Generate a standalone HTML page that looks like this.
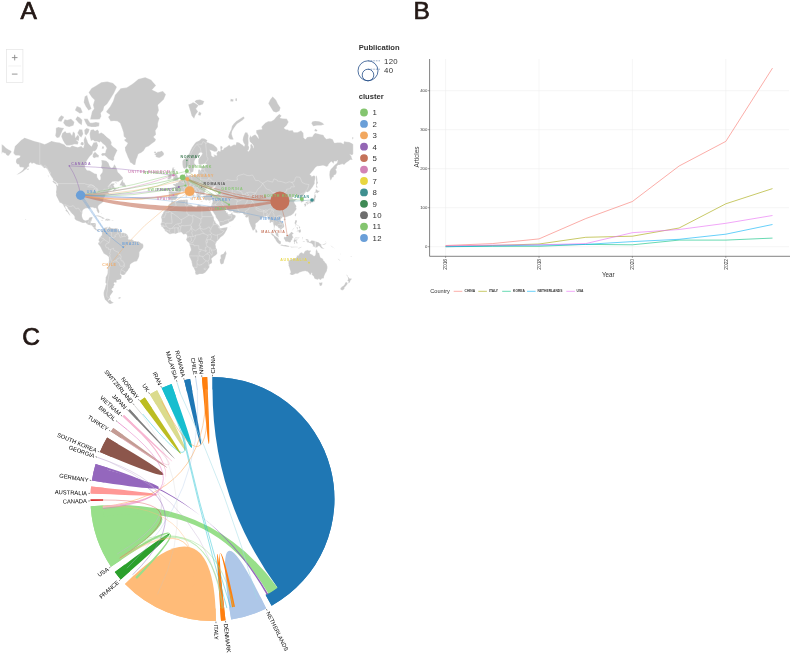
<!DOCTYPE html><html><head><meta charset="utf-8"><title>Figure</title><style>html,body{margin:0;padding:0;background:#fff}body{width:790px;height:654px;overflow:hidden}svg{display:block}text{font-family:"Liberation Sans",Arial,sans-serif}</style></head><body>
<svg width="790" height="654" viewBox="0 0 790 654">
<rect width="790" height="654" fill="#fff"/>
<g id="map">
<path fill="#c9c9c9" stroke="#fff" stroke-opacity="0.55" stroke-width="0.5" stroke-linejoin="round" d="M13.4 152.9L14.9 146.2L18.3 142.9L21.2 140.1L24.6 137.7L29.0 139.2L33.9 140.9L39.8 142.4L44.7 144.3L47.6 142.9L51.5 140.9L55.4 142.1L59.3 142.6L64.2 144.6L66.1 146.4L70.1 147.2L72.0 145.6L74.9 146.4L77.9 147.2L81.3 145.9L83.2 148.0L84.2 144.8L83.7 140.1L85.2 135.8L87.1 140.1L88.1 142.9L89.6 144.8L91.5 146.4L93.5 142.6L96.9 142.1L98.1 145.4L96.9 149.0L95.0 151.2L93.0 151.2L92.5 153.9L90.1 156.1L88.6 158.1L86.7 160.9L85.2 163.9L85.0 167.2L86.9 170.2L89.6 170.5L92.5 172.3L94.5 173.5L97.0 173.9L97.2 177.3L98.4 178.9L99.1 180.1L100.3 179.7L100.5 177.7L100.0 175.2L102.3 172.3L102.6 169.6L101.0 167.4L101.8 163.9L101.3 160.0L103.7 160.3L106.2 160.7L108.6 162.9L109.6 165.9L111.1 168.0L113.0 167.2L114.3 164.3L116.0 166.8L117.1 169.6L117.9 172.3L119.9 174.0L121.3 175.7L122.8 177.3L123.0 178.9L121.8 179.7L119.9 180.8L118.4 181.7L115.0 181.6L112.3 181.7L110.6 183.6L109.1 185.5L107.9 186.8L109.6 185.2L111.6 183.6L114.0 183.3L114.7 184.0L113.5 185.3L114.2 186.5L114.5 187.6L116.4 188.2L117.9 188.3L118.7 186.8L118.9 187.9L117.4 189.0L115.5 189.8L113.5 191.2L112.8 190.4L114.2 188.9L112.5 189.1L111.8 189.7L110.1 190.7L108.8 191.3L108.3 192.7L109.1 193.3L108.9 193.9L107.7 194.1L106.2 194.5L105.2 195.1L105.0 196.6L104.0 197.7L103.5 199.3L103.3 199.8L103.6 201.5L102.5 202.5L101.3 203.4L100.1 204.2L98.6 205.5L98.0 207.0L98.4 208.7L98.9 209.9L99.4 211.6L99.1 213.1L98.4 213.2L97.6 212.3L96.7 210.5L96.6 209.0L95.6 207.9L94.2 208.2L93.0 207.4L91.5 207.5L90.1 207.6L90.3 208.9L89.1 208.8L87.6 208.3L85.9 208.2L84.7 208.8L83.2 209.8L82.5 210.9L82.5 212.4L82.0 214.4L82.0 216.3L82.5 217.8L83.3 219.4L84.2 220.0L85.4 220.5L87.1 220.1L88.3 219.8L89.0 218.2L89.4 217.6L91.0 217.1L92.5 217.1L92.6 218.1L91.9 219.2L91.7 220.4L91.2 221.1L91.0 222.5L90.7 222.9L92.0 222.9L93.5 222.9L95.0 223.0L96.2 223.8L95.9 225.3L95.8 226.5L95.6 227.8L96.2 228.8L97.1 229.6L98.2 230.0L99.5 229.3L100.5 229.3L101.5 230.0L102.0 230.3L102.5 230.8L103.1 229.6L103.7 228.3L104.4 227.7L105.7 227.5L106.9 226.9L107.8 226.4L107.5 227.6L107.3 228.8L107.7 229.5L108.1 228.8L107.9 227.9L108.9 227.3L109.1 226.6L110.1 227.3L110.8 228.0L112.5 228.2L114.0 228.6L115.0 228.2L116.4 228.1L117.1 228.8L117.9 229.3L118.2 230.3L119.4 230.8L120.3 231.7L121.5 232.7L123.3 232.8L124.7 232.9L125.9 233.5L127.0 234.2L127.7 235.2L128.2 236.6L128.6 237.6L128.2 238.6L128.6 239.4L130.1 239.3L130.4 240.1L131.6 239.3L133.0 240.1L134.0 241.1L135.5 240.9L136.9 241.4L138.4 241.3L139.9 242.2L141.1 243.2L142.3 243.6L143.0 244.0L143.4 245.6L143.3 247.2L142.3 248.7L141.1 249.9L140.1 251.2L139.4 252.2L139.4 253.9L139.2 256.2L138.6 258.0L137.6 259.8L137.2 260.9L136.0 261.6L134.3 261.8L133.0 262.5L131.8 263.2L130.6 264.1L130.0 265.5L129.9 267.4L128.8 268.8L127.9 270.5L126.7 271.8L125.7 273.4L124.9 274.4L123.8 275.0L122.3 274.9L121.0 274.4L120.4 273.8L120.4 274.7L121.6 275.7L121.7 276.8L121.2 278.8L119.9 279.6L117.9 280.0L116.6 280.0L116.7 281.9L116.0 282.7L114.0 282.6L113.9 283.9L115.0 284.4L114.5 285.1L113.7 285.9L113.7 287.6L112.5 288.2L111.6 289.3L112.0 290.3L113.2 291.2L112.5 292.5L111.4 294.1L110.3 295.5L109.9 296.7L110.7 298.7L109.6 298.6L108.6 299.4L108.3 300.8L109.8 299.4L110.8 299.7L110.8 300.7L111.8 301.5L113.0 302.3L113.8 302.8L112.5 303.3L110.6 303.9L109.1 303.7L107.7 302.3L106.2 300.8L104.9 299.5L104.2 297.5L103.7 295.1L103.6 292.9L104.0 290.7L104.7 289.3L105.2 287.2L105.7 285.2L106.4 283.9L105.3 282.6L105.5 280.6L105.7 278.8L105.6 277.5L106.4 276.1L107.2 274.5L107.6 272.8L107.7 270.5L107.8 268.8L108.1 266.5L108.5 264.4L108.7 262.2L109.0 260.1L108.8 258.0L108.7 256.9L107.8 256.2L106.7 255.2L105.2 254.4L103.7 253.4L103.0 252.2L102.1 250.6L101.3 248.9L100.5 247.2L99.6 245.7L98.6 244.8L98.2 244.0L98.1 243.0L99.0 242.0L99.4 241.0L98.5 240.7L98.7 239.6L99.3 238.6L99.4 237.8L100.4 237.2L100.7 236.2L101.7 235.5L102.0 234.2L101.9 232.9L101.6 231.7L101.1 231.2L100.9 230.4L100.2 229.8L99.5 230.1L99.0 230.6L99.4 231.3L98.6 231.6L97.7 231.1L96.6 230.6L95.8 230.2L94.8 229.2L93.8 228.8L93.7 227.8L92.8 226.7L92.0 225.9L91.6 225.5L90.3 225.3L89.1 225.0L88.1 224.7L87.2 224.2L86.2 223.3L85.4 222.6L84.2 223.0L82.7 222.9L81.3 222.5L79.8 221.8L78.4 221.2L76.4 220.4L75.1 219.5L74.4 218.3L74.6 217.2L74.2 215.9L73.4 215.1L72.2 213.8L71.0 212.7L70.4 211.7L69.6 210.8L68.6 209.7L67.6 208.4L67.1 207.0L66.1 206.2L65.4 205.8L65.5 207.6L66.5 209.0L67.3 210.3L68.3 211.7L69.1 213.1L69.6 214.2L70.5 215.3L69.9 215.5L68.6 214.1L67.8 212.8L67.3 212.0L66.1 211.2L65.4 210.3L66.0 209.5L65.0 208.2L64.2 207.0L63.4 205.6L62.9 204.4L61.9 203.4L60.8 202.9L59.7 202.7L59.0 201.2L58.3 199.9L57.8 198.8L57.2 197.8L56.6 196.6L56.1 195.4L56.2 193.3L55.9 192.0L56.3 190.0L56.4 187.6L56.2 186.0L55.7 184.6L57.2 184.7L57.8 185.9L57.8 184.3L57.5 183.4L56.4 182.4L54.9 181.3L53.2 180.5L52.7 178.5L51.5 176.9L50.3 174.9L49.5 173.2L48.6 171.4L47.1 169.1L45.6 167.8L44.2 168.2L42.7 166.8L41.0 165.3L38.8 164.9L36.4 164.5L34.4 163.3L32.9 162.9L32.0 164.3L31.0 162.5L29.5 163.3L29.0 164.9L29.5 166.3L27.6 167.2L26.6 169.1L24.8 170.0L23.2 171.4L20.9 173.0L18.8 174.0L16.5 174.9L18.8 173.0L20.7 171.8L22.7 170.0L23.9 167.8L22.2 167.2L20.3 167.2L19.3 166.3L19.1 164.5L17.3 164.3L15.9 162.3L16.1 159.8L17.3 158.3L19.3 157.7L20.3 155.9L18.8 155.5L16.8 155.5L15.1 155.2L13.4 152.9ZM57.0 184.4L55.4 184.0L53.6 182.7L52.2 181.0L53.5 180.8L55.1 181.7L56.4 183.1ZM48.6 177.3L49.3 178.6L48.3 176.5L47.6 175.4L48.8 175.7ZM26.6 169.8L28.6 170.0L28.8 168.3L27.6 168.7ZM106.2 111.6L110.1 106.6L113.0 101.2L115.0 95.1L120.8 88.3L126.7 87.6L132.6 83.8L138.4 79.0L145.2 77.2L151.1 79.8L156.0 85.4L152.1 89.8L157.9 92.5L162.8 91.1L165.9 94.5L163.8 99.4L160.9 102.3L157.9 105.0L158.9 110.2L157.0 114.9L159.4 118.4L157.9 123.2L157.9 127.0L155.5 130.6L156.0 134.5L153.5 137.1L156.0 139.5L155.0 141.5L152.1 143.5L148.7 146.2L145.7 147.5L143.8 150.7L141.3 152.7L138.4 154.1L137.4 157.0L136.2 159.8L135.7 162.9L135.2 164.9L133.7 165.1L132.1 163.5L130.1 162.5L129.1 159.8L127.7 157.0L126.7 154.3L125.2 150.7L124.9 147.5L126.7 145.1L127.7 142.9L125.7 141.8L124.0 140.1L126.2 138.6L123.8 136.4L123.3 132.3L121.8 127.7L120.1 123.2L117.4 121.3L114.0 120.9L110.6 121.3L108.1 117.1L110.1 114.9L106.7 112.6ZM117.4 150.3L115.5 154.3L114.0 157.7L114.3 159.4L112.5 161.1L111.1 160.3L108.6 159.2L106.7 157.2L104.7 155.5L102.3 155.9L101.1 154.5L102.3 153.1L105.2 153.1L105.7 150.7L106.7 148.2L105.2 145.6L102.8 143.7L100.8 141.5L99.4 142.4L97.4 141.5L94.7 141.5L93.0 140.1L91.0 140.9L90.1 138.0L89.6 133.9L90.6 129.9L93.5 129.2L95.0 130.9L97.4 129.5L98.9 131.2L98.9 133.6L101.3 132.6L103.7 133.9L106.2 136.4L108.1 138.0L110.1 139.5L111.6 142.4L111.3 144.8L113.5 147.0L115.5 148.2L116.9 149.8ZM62.7 140.1L64.7 143.5L66.6 145.4L69.1 145.4L72.0 145.1L74.4 144.3L77.9 144.6L78.4 142.1L76.4 140.1L78.8 140.9L79.3 137.1L77.9 134.5L75.4 137.7L74.9 132.9L73.0 131.6L72.0 135.5L70.1 132.6L66.6 132.9L65.2 130.9L62.2 133.2L61.3 136.4ZM55.2 135.5L56.9 138.0L59.3 137.4L60.8 134.5L62.7 130.2L64.2 128.1L61.3 127.7L58.3 127.0L55.9 128.1L55.9 132.3ZM90.1 119.6L93.5 119.6L97.4 119.6L99.8 119.2L101.3 116.2L100.8 113.0L103.3 110.2L104.2 106.6L107.2 104.0L110.1 99.4L114.0 93.2L116.9 86.9L113.0 83.1L107.2 81.5L101.3 82.3L95.4 86.1L91.5 88.3L88.6 92.5L91.5 97.0L94.5 100.0L93.0 105.0L94.0 108.7L92.0 111.6L91.0 115.8ZM83.7 102.3L85.7 106.6L88.6 110.6L91.5 108.7L89.1 102.3L87.1 95.1L84.7 96.4ZM83.7 118.8L85.7 123.2L87.6 126.3L91.5 127.0L95.4 127.0L99.1 126.3L99.4 122.8L95.9 122.1L92.5 122.8L90.1 122.8L87.6 118.8ZM84.2 129.9L84.7 133.9L86.2 135.5L88.6 132.6L89.6 129.2L86.7 128.1ZM77.4 132.9L79.3 136.1L81.3 137.4L83.2 133.9L82.3 129.5L79.3 129.2ZM63.2 122.8L65.7 125.9L69.1 127.0L73.5 125.5L74.4 122.1L71.0 118.8L67.1 120.0L64.7 119.2ZM75.4 119.2L78.8 123.2L81.8 125.2L82.3 120.0L79.8 117.5L77.4 116.2ZM57.8 120.9L61.3 121.7L64.2 117.1L61.3 115.3L58.8 117.9ZM74.9 110.2L79.8 113.5L82.7 112.6L80.8 107.7L76.9 106.1ZM92.5 156.6L94.0 158.3L96.4 157.2L98.4 157.5L99.1 155.5L97.4 154.3L95.4 152.0L94.0 152.4L93.0 154.3ZM80.3 144.3L82.3 145.6L84.2 144.3L83.2 142.1L81.3 142.1ZM101.8 148.8L103.7 148.8L104.0 146.4L102.3 146.2ZM119.6 185.5L121.3 185.6L122.8 186.6L124.3 186.6L125.7 186.9L126.0 185.6L124.9 184.1L124.9 183.0L123.3 182.2L123.0 180.8L123.3 179.6L122.0 180.2L121.3 181.7L120.5 183.3L119.9 184.4ZM114.5 182.4L116.4 183.4L117.2 183.1L115.5 182.2ZM94.6 216.7L95.9 215.6L97.4 215.3L98.9 215.4L100.3 216.0L101.8 216.8L103.3 217.4L105.0 218.5L103.7 218.8L101.6 218.8L102.1 218.0L100.8 217.6L99.8 216.9L97.9 216.4L96.9 215.9L95.9 216.5ZM104.8 220.2L106.0 218.8L107.7 218.8L109.1 219.0L110.6 220.0L109.6 220.4L108.4 220.4L107.5 221.0L106.7 220.5L105.5 220.5ZM101.0 220.3L102.3 220.2L103.1 220.7L102.1 221.0L101.0 220.6ZM111.8 220.2L113.3 220.3L113.2 220.7L111.8 220.7ZM101.1 213.2L101.6 214.1L101.8 213.4L101.4 213.1ZM153.7 152.9L155.0 151.0L156.5 153.1L157.6 151.7L159.9 151.5L161.6 150.7L163.1 152.0L164.2 154.1L163.0 155.7L161.1 157.0L159.1 157.9L157.5 157.5L155.5 156.8L156.0 155.5L154.2 154.5L155.7 153.6ZM172.0 181.9L173.4 181.6L174.1 181.1L175.7 181.0L177.8 180.8L178.8 180.2L178.2 179.7L179.0 178.5L179.1 177.7L177.9 177.3L177.7 176.4L177.2 175.0L176.1 174.0L175.7 172.8L174.5 172.3L175.0 171.4L175.5 169.6L174.1 169.3L173.6 168.9L174.4 167.6L172.6 167.6L172.1 169.1L171.8 170.5L172.1 172.3L172.4 173.3L172.8 174.4L174.1 174.2L174.5 175.7L174.5 176.7L173.2 176.9L173.4 178.2L172.4 179.1L173.4 179.6L174.5 179.9L173.3 180.4L172.6 181.4ZM167.7 179.6L169.2 179.6L170.6 178.8L171.3 178.5L171.6 176.9L171.4 175.7L172.0 174.7L171.4 173.7L170.3 173.5L169.4 173.9L169.2 175.0L167.7 175.4L168.0 176.9L168.4 177.8L167.4 178.6ZM168.2 197.6L168.7 195.9L168.9 194.2L168.5 192.0L169.7 191.1L171.6 191.2L173.6 191.5L175.7 191.5L176.2 189.8L176.3 188.2L175.2 186.5L174.1 185.5L172.9 185.0L173.1 184.1L174.5 183.9L175.9 184.1L175.7 182.5L176.3 183.0L177.7 182.8L178.6 182.1L179.0 180.8L179.9 180.4L180.9 179.9L181.6 178.9L182.1 177.5L182.6 176.9L184.3 176.4L185.5 176.4L186.1 175.7L185.9 174.0L185.4 173.0L185.5 170.5L186.7 170.2L187.7 169.3L187.5 171.2L188.0 171.8L187.2 173.2L186.8 174.0L187.2 174.9L188.2 175.7L189.7 175.0L190.7 174.9L191.3 175.9L193.3 175.2L194.9 174.4L195.7 175.0L196.8 175.0L198.0 173.7L198.0 170.9L198.6 169.6L199.5 169.3L200.2 170.5L201.1 170.2L201.3 168.2L200.4 167.4L200.4 166.5L201.9 165.9L203.3 165.9L204.8 165.9L206.0 164.9L207.0 165.1L205.6 163.7L203.8 163.9L201.9 164.5L199.9 165.1L198.5 163.7L198.3 161.9L198.3 159.8L199.2 158.1L200.9 155.9L202.2 154.1L202.2 152.9L200.9 152.4L199.2 152.9L198.3 155.0L198.0 156.6L196.5 157.9L195.0 159.8L194.4 161.5L194.3 163.3L195.5 164.5L195.8 165.5L195.0 167.0L193.9 167.8L193.7 169.6L193.4 171.2L192.9 172.1L191.6 172.3L191.3 173.3L190.2 173.3L189.9 171.9L189.4 170.5L188.9 169.1L188.4 167.2L187.9 166.3L187.5 166.8L186.6 167.4L185.3 168.5L184.3 168.7L183.1 167.8L182.8 166.5L182.4 164.3L182.4 162.5L182.4 160.9L183.5 159.6L184.8 158.8L186.1 157.5L187.2 156.6L188.2 154.8L189.5 153.1L190.0 151.2L190.9 149.5L191.9 147.5L192.9 145.9L194.1 144.3L195.5 142.4L197.0 141.5L198.5 140.9L199.9 140.1L201.4 138.6L202.7 138.3L204.3 138.6L205.8 139.2L207.5 140.4L206.6 142.1L208.2 142.4L209.7 143.2L211.6 143.7L213.6 144.8L215.6 146.4L217.0 147.7L217.7 150.0L216.5 151.5L214.6 151.7L212.1 150.7L210.2 150.3L209.7 149.8L211.2 152.4L211.5 155.5L212.6 156.6L214.1 156.8L214.4 155.7L213.1 154.8L214.6 154.8L216.3 155.5L217.0 155.2L216.5 153.1L218.5 150.7L220.2 151.5L220.6 149.5L220.2 148.0L220.6 145.6L219.8 145.4L221.9 146.2L222.7 147.5L221.7 149.5L222.9 150.0L224.1 148.0L226.3 147.0L229.2 144.8L230.7 146.4L232.2 145.6L234.1 144.6L235.6 145.1L236.5 142.1L239.0 142.4L240.7 143.7L242.4 144.8L244.2 146.4L244.8 144.8L243.4 142.6L242.7 140.1L243.2 137.1L244.4 133.9L245.3 132.3L247.3 132.6L248.6 135.5L248.3 138.6L248.6 142.9L248.3 145.6L249.2 147.0L248.8 149.5L247.6 150.7L248.3 151.5L249.7 150.0L250.5 147.5L250.2 144.8L251.7 144.0L253.1 146.4L253.6 148.2L253.4 145.6L251.7 143.5L249.7 141.5L249.2 138.6L250.5 134.9L251.2 137.1L253.1 135.5L255.1 134.5L257.1 136.4L258.5 138.6L258.0 135.5L256.3 132.9L256.1 130.2L259.5 129.5L262.2 129.2L261.4 127.0L262.9 125.2L265.4 122.8L268.3 121.3L271.2 121.3L274.1 119.6L276.1 117.1L279.3 113.9L281.5 115.8L280.0 117.9L282.9 118.4L286.8 118.8L288.6 122.1L286.8 125.2L283.9 128.1L285.9 129.5L288.0 129.5L288.8 130.6L292.7 130.2L293.7 132.3L297.6 132.3L301.0 130.6L303.4 132.9L303.7 137.7L305.4 139.2L307.3 137.1L309.8 136.8L312.2 136.8L314.0 133.9L315.2 132.9L320.0 134.2L323.5 134.9L324.4 137.1L326.4 138.9L329.8 138.3L332.7 139.2L333.7 141.5L334.5 142.9L337.6 142.4L341.0 142.6L343.5 144.0L344.0 141.2L346.4 141.8L349.3 142.1L351.8 143.2L353.2 144.3L353.2 154.1L352.1 155.2L350.6 154.8L349.8 154.3L351.3 156.1L351.8 158.1L352.6 160.0L350.3 159.8L348.4 161.3L345.9 162.9L344.0 164.9L342.5 163.9L339.6 164.9L338.1 165.1L336.9 166.3L336.8 168.7L335.7 169.1L336.8 171.9L335.9 174.4L333.9 175.2L333.7 177.0L332.2 177.5L331.5 179.6L330.5 180.5L329.8 178.2L329.3 174.9L329.6 171.4L330.8 169.1L332.2 167.8L333.7 165.9L335.7 163.9L337.1 162.9L337.6 160.0L336.2 161.5L334.0 161.3L333.7 163.7L331.3 161.5L328.8 163.9L328.1 165.9L326.4 166.8L324.9 165.9L323.0 165.5L320.0 166.1L317.1 166.3L315.2 167.8L313.7 170.0L311.7 172.3L309.8 174.4L311.3 175.4L311.7 176.4L313.7 175.4L315.2 176.0L315.4 177.3L315.2 178.9L314.7 181.3L314.7 183.6L313.7 185.3L312.7 187.0L311.3 188.7L310.3 190.1L309.3 191.3L307.5 192.3L306.4 191.7L305.4 192.5L305.1 192.9L304.2 194.0L304.1 194.9L302.7 195.9L302.0 196.6L301.9 196.9L302.9 197.8L303.7 199.4L303.9 200.9L303.6 201.8L302.5 202.1L301.0 202.8L300.8 201.5L301.2 200.0L300.7 198.8L299.5 198.7L299.8 196.8L298.9 195.9L297.6 196.3L296.1 197.2L295.8 197.4L296.8 195.4L295.6 194.8L294.5 195.9L293.2 196.9L292.4 197.4L292.7 198.2L293.6 199.2L294.9 198.9L296.1 199.0L297.2 199.4L296.1 200.0L294.9 200.9L294.0 201.8L294.5 202.9L295.1 204.1L296.1 205.4L296.5 206.7L295.8 207.3L296.6 208.1L296.3 209.4L295.4 210.7L294.5 212.0L293.9 213.2L292.9 213.9L291.7 215.0L290.5 215.7L289.1 216.1L288.1 216.5L286.8 216.9L285.7 217.2L285.3 218.2L284.7 218.3L284.6 217.1L283.4 216.9L282.4 217.3L281.7 217.9L280.8 219.2L280.8 220.0L281.5 221.1L282.4 222.3L283.4 223.1L284.1 224.8L284.2 226.3L284.0 227.3L282.9 228.0L282.0 228.4L281.7 229.3L280.5 229.8L279.9 230.1L279.9 229.0L279.5 228.3L278.5 228.2L278.0 227.3L277.4 226.6L276.1 226.1L275.9 225.4L275.2 225.4L275.0 226.3L274.6 227.8L274.3 228.8L274.4 229.6L275.1 230.3L275.5 231.5L276.3 231.9L277.1 232.5L277.9 233.1L278.4 234.0L278.4 235.2L278.6 236.2L279.1 237.1L278.5 237.2L277.6 236.5L276.5 235.9L275.9 234.9L275.5 233.7L275.4 232.5L274.8 231.9L273.7 230.9L273.5 229.9L273.8 228.5L273.9 227.1L273.7 225.8L273.2 224.6L272.9 223.3L272.8 222.3L272.0 221.8L271.2 222.3L270.5 223.0L269.6 222.8L269.7 221.2L269.6 220.0L268.9 218.9L268.1 218.0L267.4 217.3L267.0 215.9L266.1 216.3L265.6 216.7L264.6 216.8L263.6 216.9L262.4 217.3L262.2 218.2L261.6 218.8L260.5 219.3L259.5 220.2L258.3 221.5L257.3 222.5L256.4 223.0L255.6 223.8L255.7 225.1L255.9 226.1L255.4 227.3L255.4 228.5L254.7 229.4L253.8 230.0L253.1 230.7L252.5 230.1L252.0 229.0L251.4 227.3L250.6 226.0L250.1 224.5L249.5 223.2L249.0 221.8L248.7 220.1L248.5 218.7L248.5 217.6L248.0 217.4L248.3 216.4L247.0 217.8L246.0 217.6L244.8 216.3L246.0 215.6L244.7 215.3L244.1 214.8L243.2 213.8L242.5 213.1L240.9 213.1L239.2 213.2L237.5 213.3L235.9 212.9L234.6 212.7L233.4 212.5L233.1 211.4L232.2 211.1L231.0 211.6L229.7 211.4L228.7 210.7L227.8 210.2L227.1 209.0L226.5 207.9L225.3 207.4L224.5 207.9L224.2 208.5L224.8 209.7L225.6 210.8L226.3 211.5L226.5 212.5L227.0 212.9L227.3 212.3L227.8 212.5L227.8 213.9L228.7 214.3L230.0 214.3L230.8 214.0L231.7 212.8L232.4 212.0L232.5 213.4L232.9 214.2L234.1 214.8L234.9 215.1L235.9 216.0L235.4 217.2L234.7 218.2L233.9 219.5L233.8 219.8L232.9 220.6L231.6 221.3L230.4 221.8L229.0 222.5L228.4 223.2L226.8 223.9L225.3 224.6L223.9 225.1L222.4 225.4L221.4 226.0L220.0 226.1L219.7 225.3L219.4 224.0L219.2 222.8L218.7 221.4L217.8 220.2L217.2 218.9L216.2 218.0L215.7 216.9L215.4 215.5L214.5 214.2L213.8 213.2L213.2 212.3L212.3 210.9L211.6 210.1L211.5 208.5L211.3 209.5L211.0 210.3L210.3 209.9L209.7 209.0L209.3 208.0L209.1 208.4L209.7 209.8L210.5 211.0L211.1 212.3L211.6 213.6L212.2 214.6L212.6 215.5L213.5 216.6L213.8 217.6L213.9 218.7L214.0 219.9L214.9 220.7L215.5 221.8L215.8 223.0L216.7 223.8L217.7 224.3L218.8 225.5L219.6 226.2L219.8 227.0L219.5 227.3L220.4 228.2L221.9 228.1L223.4 227.7L224.8 227.5L226.3 227.2L227.5 226.9L227.4 228.3L227.0 229.5L226.3 230.8L225.6 232.0L224.8 233.4L224.0 234.5L222.9 235.7L221.7 236.6L220.4 237.6L219.3 238.9L218.3 240.0L217.5 240.7L216.7 241.5L216.2 242.7L215.6 244.0L215.5 245.1L215.9 246.1L215.8 247.2L216.3 248.4L217.0 249.2L217.0 250.9L217.2 252.4L217.2 253.7L216.3 254.8L215.1 255.7L213.8 256.4L212.9 257.4L211.8 258.3L211.5 259.1L212.0 260.4L212.1 261.9L212.0 263.0L210.9 263.7L209.6 264.5L209.4 265.6L209.5 266.5L209.1 267.9L208.2 268.8L207.5 269.9L206.6 271.0L205.6 272.2L204.6 273.1L203.3 273.7L202.5 273.9L201.4 274.1L199.9 273.9L198.8 274.3L197.0 274.9L196.0 274.4L195.4 274.2L195.3 273.0L195.0 272.2L195.3 271.3L194.6 270.1L194.1 268.8L193.6 267.8L192.8 266.7L192.2 265.5L192.0 263.8L191.6 262.5L191.5 261.2L190.9 259.9L190.3 258.5L189.5 257.2L189.0 256.0L189.0 254.4L189.4 253.2L189.8 251.9L190.7 250.8L190.9 249.7L190.8 248.7L190.4 247.6L190.2 246.4L189.5 244.9L189.4 244.0L189.0 243.1L188.2 242.3L187.2 241.3L186.6 240.4L186.1 239.4L186.6 238.4L186.9 237.4L187.0 236.2L186.9 235.3L186.6 234.7L186.0 234.1L184.8 234.2L184.1 234.3L183.3 234.4L182.6 233.7L182.0 232.7L180.9 232.3L179.7 232.4L178.6 232.7L177.5 233.1L176.5 233.5L175.3 233.9L174.2 233.6L173.1 233.5L171.8 233.7L170.1 234.3L169.2 233.9L168.2 233.2L166.9 232.3L166.2 231.7L165.3 231.3L164.6 230.3L164.5 229.5L163.8 228.8L163.0 227.9L162.6 227.1L161.6 226.8L161.1 226.3L161.2 225.4L160.8 224.4L160.4 224.1L161.1 223.3L161.5 222.3L161.7 220.9L161.7 219.7L161.5 218.7L160.9 217.6L161.2 216.6L161.7 215.5L162.1 214.4L162.9 213.4L163.4 212.1L164.2 211.2L164.9 210.2L166.2 209.5L167.2 208.8L167.9 207.9L167.9 206.5L168.4 205.1L169.2 204.1L170.1 203.6L170.9 202.9L171.4 201.8L171.7 201.1L172.3 201.0L173.1 201.8L174.2 201.8L175.3 202.0L176.5 201.5L177.5 201.0L178.6 200.3L179.9 200.0L181.2 199.8L182.5 199.9L183.8 199.7L185.1 199.7L186.3 199.4L187.1 199.3L187.5 199.9L188.2 199.7L187.8 200.6L187.8 201.5L188.2 202.1L187.4 202.9L188.0 203.6L188.7 204.2L189.7 204.5L190.7 204.5L192.1 205.1L192.6 206.0L193.6 206.6L194.9 206.8L196.0 207.5L196.8 207.0L197.1 205.8L197.8 204.9L198.8 204.5L199.9 204.9L200.9 205.6L201.9 205.9L203.3 206.2L204.8 206.6L206.1 206.8L207.1 206.4L207.9 206.2L208.7 206.3L209.2 206.6L210.2 206.6L210.9 206.4L211.4 205.6L211.6 204.7L211.8 203.8L212.3 202.7L212.5 201.4L212.8 200.1L212.1 200.1L211.3 199.9L210.2 200.6L209.0 200.8L207.7 199.9L207.4 199.9L206.3 200.6L205.1 200.0L204.2 199.7L204.0 198.7L203.2 198.1L203.6 197.2L203.1 196.6L203.1 195.9L204.1 195.4L205.6 195.4L205.8 194.6L206.8 194.4L208.0 194.5L209.2 193.6L210.2 193.3L211.6 193.3L212.6 193.9L213.6 194.5L215.1 194.8L216.5 194.6L218.0 194.0L218.0 192.7L217.0 191.7L216.0 190.9L214.9 190.1L213.9 189.6L213.4 188.9L214.4 188.2L214.8 187.5L214.4 186.8L215.7 186.2L214.6 186.3L213.3 186.9L211.8 187.6L211.6 188.3L213.1 188.9L212.1 189.3L211.0 190.0L210.2 190.0L210.2 189.1L209.3 188.7L210.2 187.9L208.9 187.5L208.0 187.0L207.4 187.3L206.8 188.2L206.5 189.0L205.6 190.0L205.4 191.3L204.7 192.3L204.5 192.9L204.8 193.5L205.3 194.1L205.8 194.4L205.0 194.6L204.1 194.8L203.2 195.3L202.9 194.9L201.9 194.8L201.1 195.0L200.6 195.7L199.8 195.3L199.6 196.2L200.1 196.9L199.8 197.4L200.7 197.9L201.0 198.7L200.4 198.6L199.9 198.6L200.1 199.3L199.7 199.3L200.0 200.3L199.4 200.3L199.1 199.8L198.7 199.9L198.3 199.0L198.2 198.2L199.0 198.1L198.2 197.9L197.8 197.3L197.3 196.6L196.9 196.2L196.4 195.4L196.5 194.2L196.4 193.5L195.7 192.8L194.8 192.1L193.8 191.5L192.9 191.1L192.3 190.2L191.9 189.3L191.4 188.9L190.9 189.4L190.8 188.5L190.1 188.5L189.5 188.9L189.5 190.1L190.0 190.8L190.8 191.3L191.1 192.4L191.9 193.2L192.9 193.5L193.2 193.7L193.1 194.1L194.1 194.6L195.0 195.1L195.5 195.8L195.1 196.0L194.5 195.5L194.0 195.4L193.6 196.3L194.2 197.2L193.7 197.6L193.6 198.1L193.2 198.6L192.8 198.4L193.0 197.7L193.3 196.9L192.8 195.9L192.1 195.7L191.6 195.0L190.9 194.4L190.1 194.2L189.4 193.6L188.8 192.8L188.2 192.7L187.7 192.0L187.4 190.9L186.7 190.4L186.1 190.1L185.4 190.8L184.8 190.9L184.1 191.6L183.3 191.9L182.5 191.6L181.9 191.5L181.1 191.6L180.5 192.0L180.5 192.8L180.6 193.6L179.6 194.1L178.6 194.6L178.2 195.1L177.5 196.2L177.2 196.8L177.6 197.4L177.0 198.1L176.7 198.8L176.0 199.3L175.3 199.9L174.3 200.0L173.2 200.0L172.3 200.6L172.0 200.9L171.5 200.5L171.2 199.9L170.6 199.4L169.8 199.7L168.8 199.7L168.9 198.7L168.9 197.9ZM1.7 144.3L3.7 145.6L6.1 148.0L8.5 149.5L10.5 150.5L11.7 151.7L10.7 153.1L9.0 155.5L8.0 155.9L6.1 154.8L5.6 153.4L3.7 153.1L2.9 152.0L1.7 154.1ZM188.2 104.5L190.7 112.6L191.6 115.8L194.1 118.8L195.5 114.9L198.0 111.6L196.0 108.7L198.5 105.6L195.0 102.9L193.1 102.3L191.1 103.4ZM194.6 101.7L199.0 105.6L202.9 104.5L204.3 101.2L199.9 99.4L196.0 100.0ZM198.0 114.9L200.4 115.8L201.4 113.0L199.0 111.6ZM228.1 137.1L229.7 139.2L232.2 139.8L233.6 139.2L232.6 137.1L231.7 133.9L232.2 131.2L233.6 128.8L235.1 126.6L237.0 124.0L240.0 122.1L242.9 120.0L244.7 117.9L243.4 116.6L240.0 118.8L236.5 120.9L234.1 123.2L232.0 125.9L231.2 129.5L229.7 132.3L228.7 134.9ZM270.2 106.6L273.2 111.6L276.1 112.6L279.5 111.1L280.5 107.7L278.0 104.0L276.1 100.0L272.7 96.4L270.2 99.4L268.3 103.4ZM311.3 123.2L313.2 126.3L317.1 125.5L321.0 125.5L324.4 124.4L322.0 122.5L319.1 121.3L315.2 120.9L312.7 121.3ZM314.2 130.9L316.6 131.6L317.6 130.2L315.2 128.8ZM352.0 139.2L353.2 138.9L353.2 137.1L352.3 137.1ZM230.2 101.2L233.1 101.7L233.6 99.4L230.7 98.8ZM235.1 100.6L237.0 101.2L237.0 98.2L235.6 98.2ZM316.1 175.2L316.9 176.5L317.3 178.9L317.4 181.3L318.1 183.1L317.1 183.9L316.8 185.8L317.6 186.9L317.4 187.8L316.4 187.5L316.1 188.0L316.1 185.8L316.1 183.6L316.2 181.3L315.9 179.3L315.9 176.9ZM314.2 194.0L314.4 192.7L315.4 191.7L315.7 190.0L315.9 188.7L317.1 190.0L318.4 190.7L319.4 190.4L319.6 191.6L318.6 192.0L317.4 193.3L316.1 192.5L315.2 192.8L314.9 193.6ZM315.4 194.1L315.6 195.3L316.1 196.6L315.6 197.8L315.2 198.4L315.2 199.7L314.8 200.9L315.0 201.2L314.2 202.0L314.0 201.4L313.4 201.8L313.0 202.4L312.2 202.4L311.4 202.5L311.1 202.9L310.6 203.6L310.1 203.8L309.5 203.3L309.5 202.5L308.3 202.4L307.3 202.9L306.4 203.4L305.4 203.3L305.4 202.7L306.4 202.0L307.3 201.4L308.8 201.4L309.8 201.4L310.3 200.9L311.0 199.9L311.3 199.0L311.7 199.8L312.7 199.3L313.5 198.4L314.0 197.2L314.2 195.9L314.2 195.0L314.5 194.4ZM304.4 203.7L305.4 203.4L306.2 203.8L306.2 205.2L305.7 206.3L305.1 206.7L304.6 206.4L304.6 205.2L304.1 204.7L304.1 204.1ZM306.9 203.3L307.8 202.9L308.9 203.0L309.0 203.5L308.3 204.0L307.5 204.4L307.1 204.7L306.7 204.0ZM295.6 213.2L296.5 213.4L296.1 214.4L295.9 215.5L295.4 216.6L294.8 215.7L294.8 214.8L295.3 213.9ZM283.6 219.4L284.4 218.8L285.4 218.6L285.9 219.1L285.4 220.0L284.5 220.5L283.6 220.1ZM255.4 229.1L255.9 229.1L256.8 230.2L257.3 231.3L257.3 232.2L256.4 232.7L255.6 232.6L255.4 231.7L255.3 230.6ZM295.2 220.2L296.1 220.1L296.8 220.3L297.0 221.8L296.3 223.0L296.1 224.0L296.6 224.8L297.6 224.9L298.6 225.8L298.6 226.3L297.6 225.6L296.9 225.3L295.9 225.1L295.2 224.6L295.4 224.1L294.7 223.8L294.6 222.6L294.9 222.2L295.0 221.2ZM296.6 231.7L296.9 230.9L297.9 230.3L298.8 230.3L299.5 229.8L300.0 229.0L300.8 229.8L301.0 231.3L300.7 232.4L300.0 232.2L299.9 233.0L299.0 232.6L298.6 231.9L298.6 231.2L297.8 231.3L297.1 231.5ZM298.8 226.3L299.9 226.4L300.2 227.6L299.7 228.6L299.3 228.8L298.9 228.0L299.0 227.3ZM296.6 227.0L297.7 227.3L298.1 228.3L297.8 229.6L297.1 229.2L297.2 228.3L296.6 228.2ZM291.9 230.4L292.9 229.6L294.1 228.4L294.2 227.5L293.7 228.2L293.0 229.0L291.9 230.0ZM295.0 225.4L295.9 225.4L296.1 226.3L295.6 226.6ZM299.5 247.6L300.5 247.0L301.7 246.8L301.0 247.6L299.5 248.2ZM315.2 241.1L316.6 241.7L318.6 242.3L319.8 243.5L321.3 244.4L321.8 245.3L321.0 245.4L321.5 246.2L322.5 247.4L323.7 248.2L324.7 248.7L323.5 248.8L322.0 248.6L321.0 247.9L320.5 247.2L319.6 246.3L318.6 246.1L317.6 246.8L317.1 247.6L316.1 247.6L315.2 247.5ZM322.5 244.1L323.9 244.0L325.4 243.4L326.1 242.7L326.2 243.5L325.4 244.2L324.2 244.8L323.0 244.7ZM324.7 241.1L325.9 241.7L326.9 243.0L326.6 242.8L325.4 241.7ZM330.3 245.3L331.8 246.2L333.7 247.7L335.2 248.7L333.7 248.1L331.8 246.7ZM337.6 258.6L339.1 259.6L340.5 260.9L339.9 260.8L338.4 259.8ZM350.6 256.0L351.8 255.9L351.9 256.6L350.7 256.6ZM340.2 253.4L340.7 253.9L341.0 254.9L340.5 254.2ZM288.3 260.6L288.9 261.2L289.0 260.4L290.3 259.6L291.5 259.2L292.7 258.9L293.7 258.5L295.1 258.3L295.9 257.9L296.9 256.6L296.8 255.4L297.6 255.2L298.2 255.9L298.4 254.7L299.0 254.7L299.3 253.7L300.3 252.9L301.3 252.3L302.3 252.7L302.7 253.3L303.4 253.3L304.0 253.3L304.1 252.0L304.7 251.4L305.2 250.8L306.4 250.6L307.0 249.8L307.8 250.2L309.3 250.6L310.3 250.5L311.1 250.6L310.8 251.5L310.2 252.0L309.8 253.2L310.6 253.9L311.5 254.3L312.7 255.1L313.5 255.8L314.5 256.1L315.2 255.2L315.5 253.9L315.7 252.6L315.7 251.4L315.9 250.4L316.3 249.4L316.7 249.1L317.0 250.2L317.6 251.2L317.8 252.6L318.7 252.8L319.4 253.4L319.6 254.7L320.0 256.0L320.3 257.3L321.5 257.9L322.5 258.6L323.2 259.6L323.6 260.8L324.6 261.3L324.8 262.3L325.7 263.0L326.7 264.0L327.1 265.5L327.4 266.5L327.5 268.0L327.1 269.3L326.9 270.7L326.4 272.0L325.7 272.8L325.1 273.9L324.7 275.1L324.1 276.3L323.9 277.8L323.5 278.4L322.0 278.6L321.0 279.4L320.4 280.1L319.6 279.4L318.9 278.8L318.1 279.4L317.4 279.8L316.1 279.3L315.2 278.9L314.2 278.2L313.9 276.9L313.4 276.0L312.7 275.8L312.4 274.9L312.0 275.4L311.7 274.2L312.1 273.0L311.7 272.8L311.1 273.9L310.3 275.0L309.8 274.7L309.5 273.7L308.6 272.8L307.8 271.8L306.6 271.6L305.4 271.0L303.9 271.2L302.5 271.6L301.0 272.0L299.5 272.5L298.6 273.0L298.1 273.8L296.6 273.8L295.1 273.8L294.2 274.4L292.7 275.1L291.5 275.1L290.5 274.5L289.8 274.3L289.8 273.5L290.5 273.1L290.5 271.3L290.0 269.9L289.6 268.5L289.1 267.1L288.8 266.0L288.1 265.1L288.8 265.1L288.3 263.8L288.5 262.8L288.3 261.7ZM318.8 282.2L320.0 282.7L321.2 282.4L322.3 282.3L322.3 283.9L321.9 285.2L321.0 285.9L320.0 285.9L319.4 284.5L319.1 283.2ZM346.1 274.4L346.9 275.1L347.7 275.8L348.2 276.9L348.9 277.3L349.2 278.2L350.3 278.6L351.5 278.3L351.6 279.4L350.8 280.3L350.3 280.8L350.1 281.9L349.3 283.0L348.7 283.3L348.2 283.0L348.5 281.9L348.2 281.0L347.2 280.5L347.9 279.8L348.1 278.8L347.9 277.5L347.6 276.7L346.7 275.5ZM346.1 281.9L347.2 282.4L347.7 283.5L346.9 284.8L346.2 285.7L345.7 286.4L344.7 287.1L344.5 288.6L344.0 289.3L343.0 290.2L341.8 290.2L340.8 289.6L340.1 289.0L340.7 287.9L341.5 287.0L342.5 286.3L344.0 285.2L344.7 283.9L345.4 282.6ZM225.6 250.4L226.1 251.9L226.6 253.7L226.0 254.9L225.7 256.5L225.1 258.5L224.3 260.6L223.8 262.8L223.4 263.8L222.4 264.1L221.6 264.4L220.4 263.6L220.0 262.2L219.8 260.6L219.9 259.6L220.7 258.5L220.7 257.3L220.4 256.0L220.9 254.7L221.9 254.3L222.9 254.0L223.9 253.2L224.3 252.2L225.1 251.4ZM189.7 198.4L190.7 198.2L192.6 198.2L192.3 199.4L192.1 200.0L191.4 199.8L190.2 199.2L189.7 198.8ZM185.6 194.8L186.5 194.4L186.9 195.3L186.8 196.9L186.3 197.2L185.8 197.2L185.7 195.9ZM185.9 192.7L186.6 192.0L186.7 193.3L186.5 194.1L186.0 193.7ZM200.5 201.5L201.4 201.5L203.1 201.7L202.9 202.1L201.4 202.1L200.5 201.8ZM209.0 202.1L210.2 201.7L211.2 201.4L210.6 202.1L209.7 202.5L209.2 202.4ZM179.8 196.6L180.6 196.0L180.8 196.6L180.4 196.8ZM188.2 172.8L189.7 172.3L189.7 173.5L189.0 174.0L188.4 173.7ZM187.0 173.2L187.9 173.2L187.9 173.9L187.2 173.9ZM195.2 170.3L196.0 168.9L195.8 169.8L195.3 170.5ZM117.9 297.9L119.9 297.1L121.0 297.6L119.9 298.7L118.4 298.6ZM25.1 218.9L26.1 218.9L26.1 219.5L25.3 219.7ZM229.6 226.2L230.6 226.2L230.4 226.5L229.7 226.4ZM117.1 228.1L117.9 228.0L117.9 228.7L117.1 228.7ZM284.5 236.7L285.9 237.1L286.3 236.2L287.6 235.7L288.3 234.9L289.1 234.1L290.2 233.3L290.9 232.2L291.7 231.7L292.3 232.3L293.2 233.1L293.9 233.5L292.9 234.1L292.3 234.5L292.5 235.7L293.5 237.6L292.5 237.9L292.2 239.4L291.2 240.4L290.9 242.0L289.5 242.5L287.8 241.8L286.3 241.8L285.1 241.3L284.9 240.1L283.9 238.9L283.9 237.6ZM270.5 233.1L272.7 233.5L273.7 234.7L274.9 235.7L275.9 236.5L277.1 237.3L278.2 238.1L278.8 239.6L279.5 240.6L281.0 241.5L280.8 244.3L279.5 244.2L278.0 243.2L277.3 242.5L276.1 241.0L275.4 239.4L274.1 237.8L273.7 236.6L272.2 235.4L271.2 234.2ZM280.2 245.3L281.5 244.5L283.4 245.1L285.7 244.9L287.5 245.4L289.2 246.1L289.3 247.1L286.8 246.8L283.9 246.2L281.5 245.8ZM290.3 246.6L291.7 246.7L293.7 246.7L295.6 246.8L297.6 246.7L297.6 247.2L295.6 247.3L293.7 247.2L291.7 247.4L290.3 247.1ZM298.1 248.7L298.8 247.8L299.5 247.6L299.5 248.2L299.0 248.6ZM294.2 244.0L294.2 242.0L293.5 241.2L294.1 239.6L294.5 238.4L295.1 237.5L296.6 237.5L298.1 237.7L299.5 237.0L299.0 238.2L297.6 238.2L296.1 238.2L295.0 238.6L294.8 239.5L296.1 239.6L297.9 239.4L297.1 240.3L296.3 240.7L296.9 241.8L297.6 242.7L297.1 243.8L296.4 243.2L295.9 242.0L295.5 241.3L295.0 241.7L295.0 244.0ZM302.0 236.8L302.7 237.6L303.1 237.2L302.5 238.6L302.8 239.4L302.2 238.9L302.0 237.8ZM302.5 241.7L303.9 241.3L305.2 241.8L304.4 242.1L303.0 242.1ZM305.4 239.4L306.9 239.0L308.3 239.4L308.6 240.6L309.1 241.7L310.1 241.7L311.7 240.2L313.7 240.7L315.2 241.1L315.2 247.5L313.7 246.4L312.7 246.7L313.0 245.5L312.2 244.0L310.8 243.2L309.5 242.9L307.8 242.3L307.1 242.5L306.4 241.3L307.8 240.9L306.7 240.7Z"/>
<path fill="#fff" d=""/>
<path fill="none" stroke="#fff" stroke-opacity="0.55" stroke-width="0.45" stroke-linejoin="round" d="M39.8 142.4L39.8 164.3L41.7 164.9L43.2 167.0L45.2 165.5L47.1 167.8L48.6 170.5L50.5 172.3L50.5 174.0M57.6 183.6L84.5 183.6L85.0 183.9L87.6 184.6L90.1 185.0L91.1 184.6L94.7 186.8L95.0 187.2L95.9 187.9L96.9 188.9L97.0 192.0L96.3 193.2L96.9 193.7L100.3 192.3L100.3 191.6L102.5 191.2L103.0 190.4L104.2 189.3L107.7 189.3L108.3 188.9L109.1 186.9L109.9 185.9L110.8 186.0L111.3 186.5L111.3 188.3L111.8 189.0M63.1 205.0L65.5 204.8L69.1 206.4L71.8 206.4L71.8 205.8L73.5 205.8L75.4 208.3L76.7 209.0L77.4 208.1L78.5 208.1L79.5 209.8L80.3 210.7L80.8 211.9L82.6 212.4M87.4 224.3L87.6 223.6L87.8 222.8L89.1 222.7L88.6 221.5L88.6 220.9L90.4 220.9L91.2 220.2M90.4 220.9L90.4 222.9L90.3 224.4L89.5 225.1M90.3 224.4L91.7 225.3M92.2 225.8L93.8 224.9L96.2 223.8M93.8 227.7L95.7 227.9M96.5 230.7L96.8 229.2M101.4 231.6L102.0 230.2M107.5 219.0L107.4 220.9M87.6 186.8L90.1 185.0L93.0 185.3L94.7 186.8L93.0 187.2L89.6 186.9L87.6 186.8M91.7 193.3L93.0 193.3L93.3 190.7L94.5 188.2L95.2 188.3M95.2 188.3L96.0 189.3L96.1 190.7L96.9 192.0L97.7 191.3L97.9 189.3L96.4 187.9M127.1 234.5L126.0 236.4L124.2 236.4L122.8 236.6L120.1 237.4L119.1 234.2L118.2 233.5L115.6 234.7L114.7 236.2L115.6 236.5L113.5 237.8L112.0 237.4L109.3 237.5L109.7 239.8L109.1 242.7L106.3 243.7L105.4 245.7L106.4 247.8L108.6 247.9L108.5 249.4L110.4 249.5L113.7 248.2L113.7 250.1L116.9 251.7L118.6 252.2L118.7 254.6L120.5 254.7L120.8 256.0L121.2 256.7L120.8 258.5L121.0 260.7L123.1 260.9L123.4 262.8L124.3 262.8L124.2 264.5L124.9 266.2L123.0 267.5L121.2 269.6L122.9 270.6L124.9 271.7L125.3 273.6M109.6 256.0L110.3 254.7L109.7 253.7L110.4 250.9L110.4 249.5M109.6 256.0L110.6 258.0L110.9 260.1L112.0 261.7L110.8 263.3L110.6 266.0L109.4 267.7L109.1 270.5L109.1 273.1L108.7 276.3L108.1 279.8L107.4 282.6L107.5 286.5L107.4 290.0L106.7 293.6L106.9 296.7L110.1 298.6M108.7 256.8L109.6 256.0M112.0 261.7L114.5 260.9L116.2 260.8L116.9 259.1L119.4 257.8L120.6 258.5M116.2 260.8L118.9 262.8L120.2 266.2L122.8 266.3L124.2 264.5M121.2 269.6L120.6 272.2L120.4 273.8M107.8 226.4L106.7 227.7L106.8 229.8L106.9 231.4L109.1 231.7L111.6 232.5L111.3 235.9L112.0 237.4M100.4 237.2L102.3 238.3L103.7 238.6L104.0 239.6L106.2 240.8L109.1 242.7M99.1 241.9L99.8 243.3L100.8 243.0L101.5 241.5L103.7 240.1L104.0 239.6M118.2 233.5L117.6 232.7L118.7 231.3L118.9 230.5M121.6 232.7L121.3 235.2L122.3 236.6M124.7 232.9L124.3 234.7L124.2 236.4M175.3 202.0L175.8 204.4L176.3 205.4L174.0 206.7L172.6 207.9L169.0 209.3L169.0 210.9M164.6 210.4L169.0 210.4M169.0 210.9L169.0 212.3L165.8 212.3L165.8 215.0L164.8 215.5L164.8 217.3L160.9 217.3M169.0 210.9L172.8 213.4L178.6 217.5L180.7 219.7L181.6 219.5L183.3 218.7L189.2 215.0L187.2 213.9L186.7 211.7L187.1 210.1L186.7 207.6L185.6 205.0L184.8 203.4L185.5 202.5L185.9 199.8M186.7 207.6L187.5 205.8L188.7 204.2M201.9 206.0L201.9 216.6L201.9 218.7L200.9 218.7L200.9 219.2L193.1 215.1L192.1 215.5L191.3 215.9L189.2 215.0M201.9 216.6L213.5 216.6M172.8 213.4L171.1 213.4L172.1 222.3L172.0 223.3L168.4 223.3L166.2 223.2L165.6 224.0L163.8 222.2L161.6 222.7M165.6 224.0L166.3 226.4L164.1 226.2L161.2 226.4M161.1 225.2L164.0 225.3M162.8 227.8L164.1 226.2M166.3 226.4L168.9 228.3L169.7 228.6L170.0 229.8L169.2 231.2L170.1 232.7L170.1 234.3M164.5 229.8L167.4 230.3L166.2 231.7M167.4 230.3L169.2 231.2M169.7 228.6L172.1 228.4L173.2 226.8L175.5 224.6L177.7 223.8L181.3 223.1L181.6 221.9L181.6 219.5M177.7 223.8L179.6 226.4L181.0 227.1L181.4 225.3L184.3 225.8L187.2 225.5L190.7 225.1L192.6 222.0L193.0 218.2L192.1 215.5M172.1 228.4L174.7 227.8L177.5 227.8L178.3 227.8L179.6 226.4M174.7 233.6L174.8 229.3L174.7 227.8M178.6 232.7L178.0 230.3L177.5 227.8M179.0 232.5L178.9 229.8L178.3 227.8M180.1 232.4L180.2 229.8L181.0 227.1M185.9 233.9L187.0 231.9L188.7 231.9L190.0 230.1L190.9 227.8L191.3 226.3L190.7 225.1M191.3 226.3L192.1 228.8L191.0 229.2L192.5 231.2L191.6 232.8L193.1 236.6L190.5 236.5L188.5 236.5L187.0 236.4M188.5 236.5L188.5 237.6L187.0 237.6M190.5 236.5L191.5 239.1L191.5 240.6L189.0 242.3L188.3 242.4M193.1 236.6L195.6 235.2L194.9 238.6L193.3 241.0L192.9 242.5L190.2 243.1L189.4 244.3M192.1 228.8L195.5 230.8L199.8 227.9L200.9 226.1L199.0 226.1L199.9 223.1L200.9 223.1L200.9 219.2M195.6 235.2L199.4 234.6L202.4 233.4L204.2 233.7M199.8 227.9L201.4 230.6L204.2 233.7M199.8 227.9L203.3 229.3L205.8 228.8L209.2 226.8L209.9 228.3L210.8 229.3M210.8 229.3L211.6 226.8L213.1 225.8L213.1 224.5L213.6 221.8L215.2 220.7M213.1 224.5L216.5 224.3L218.9 226.3L219.6 226.2M218.9 226.3L218.3 227.8L219.4 227.9L219.5 227.3M219.4 227.9L220.4 229.8L223.4 230.8L224.3 230.8L221.4 233.7L218.5 234.5L217.5 234.8M217.5 234.8L216.0 235.3L212.6 234.3L211.6 233.3L210.7 234.5M210.8 229.3L209.7 231.0L211.6 233.3M210.7 234.5L207.7 235.0L207.5 235.2L204.2 233.7M217.5 234.8L217.5 239.4L218.1 240.3M210.7 234.5L211.6 236.9L210.7 238.6L210.6 239.6L214.2 241.5L215.7 243.2M207.5 235.2L208.0 236.5L206.4 239.1L206.4 240.0L207.3 239.7L207.5 240.9L207.3 242.9L206.1 242.9L205.8 241.2L206.4 240.0M207.3 239.7L210.6 239.6M206.1 242.9L206.4 245.0L207.5 246.7L209.6 247.8L210.7 247.9L211.2 249.9L211.6 250.0L214.1 250.1L216.9 248.8M209.7 248.4L209.7 252.4L211.8 255.4L212.4 252.9L211.3 250.0M189.4 244.3L190.2 244.4L193.7 244.4L194.1 245.9L196.5 245.5L197.0 245.7L198.8 245.7L198.8 247.9L199.1 249.6L200.9 249.4L200.9 251.4L199.0 251.4L199.0 254.6L200.3 256.1M200.9 249.4L202.4 250.1L204.3 250.7L205.8 251.8L206.6 250.6L205.2 250.4L205.4 247.4L207.5 246.7M189.0 255.8L191.1 255.9L195.5 255.9L200.3 256.1L202.1 256.3M198.0 256.8L198.0 260.6L197.0 260.6L197.0 263.6L197.0 267.5L194.1 267.2L193.6 267.8M197.0 263.6L199.0 265.2L201.9 264.6L203.7 262.8L206.2 260.8M202.1 256.3L203.8 259.1L206.2 260.8M202.1 256.3L203.8 256.4L205.7 254.4L207.2 254.0M207.2 254.0L209.6 255.1L209.5 258.0L209.1 259.9L208.0 261.1L206.2 260.8M207.2 254.0L207.0 253.2L209.7 252.4M208.0 261.1L208.7 263.3L208.7 265.8L209.6 265.8M203.8 268.9L205.3 267.9L206.2 268.8L205.1 270.0L203.8 268.9M168.9 193.5L171.1 193.7L170.6 195.9L170.1 198.4L170.2 199.4M175.7 191.5L178.2 192.3L180.5 192.8M184.8 190.9L184.2 189.1L184.3 188.0M184.3 188.0L183.4 187.5L184.8 185.6L185.5 183.6L183.7 182.8L183.1 182.8L181.6 182.1L179.9 180.4M183.7 182.8L183.3 180.8L183.3 179.3L184.3 178.6L184.5 176.9M180.8 179.9L183.3 180.2M185.9 174.2L187.0 174.4M191.3 175.9L191.7 178.2L192.1 180.5M192.1 180.5L189.4 181.6L190.9 183.9M190.9 183.9L190.2 185.8L187.7 185.8L186.8 185.8L184.8 185.6M186.8 185.8L186.7 186.5L187.7 186.6L189.4 186.5L190.8 187.2M184.3 188.0L185.8 187.6L187.7 186.6M190.8 187.2L190.8 188.5M190.8 187.2L193.2 186.8L194.2 185.0M190.9 183.9L192.1 183.6L194.1 184.1L194.2 185.0M192.1 180.5L193.6 181.6L195.8 182.8L199.4 183.4M194.2 185.0L195.8 185.3L199.1 184.4M196.8 175.0L199.7 175.0L200.4 175.7L200.8 177.8L200.5 179.7L200.9 181.3L199.6 182.8L199.4 183.4L199.1 184.4M198.1 172.1L201.9 171.8L203.4 172.8L202.7 174.2L200.4 175.7M201.2 168.9L204.2 169.4M204.2 169.4L205.0 171.9L203.4 172.8M204.2 169.4L204.8 165.9M205.0 171.9L207.7 174.0L209.4 176.5L208.5 178.8L207.4 180.1L200.5 179.7M208.5 178.8L211.1 179.3L212.2 181.4L214.6 182.2L216.6 182.7L216.2 185.3L214.8 186.3M199.1 184.4L201.8 185.5L203.4 184.6L205.0 188.6L206.4 189.0M203.4 184.6L205.8 185.0L206.8 187.3L205.0 188.6M199.1 184.4L198.2 187.3L197.3 187.6L195.8 188.0L193.2 186.8M199.6 190.4L201.9 191.1L203.8 190.5L205.4 191.1M197.3 187.6L198.4 189.6L199.6 190.4M199.6 190.4L199.3 192.3L199.9 194.2M199.9 194.2L203.2 193.7L204.8 193.3M203.2 193.7L202.9 194.9M197.0 196.3L198.0 194.8L199.9 194.2M196.4 193.5L197.5 193.1L197.5 194.2L198.0 194.8M190.8 188.6L192.4 188.6L193.6 187.3M192.9 189.0L196.0 189.4L196.6 190.7L195.5 192.7M196.0 189.4L195.8 188.0M196.6 190.7L197.5 193.1L199.3 192.3M188.7 166.8L189.7 162.9L189.4 157.7L191.6 152.0L194.6 147.0L197.0 144.3L200.4 148.2L201.1 152.4M197.6 144.0L201.9 144.3L202.9 141.5L205.8 142.9L205.7 144.0M205.7 144.0L206.3 150.7L206.8 156.6L208.2 159.0L204.6 163.9M205.7 144.0L207.5 142.1M225.3 187.5L223.4 185.0L223.4 182.1L224.8 181.1L227.3 179.7L231.2 180.5L234.6 180.5L237.5 180.1L237.0 177.3L238.0 175.7L243.9 174.0L246.8 175.4L249.2 175.7L252.5 175.0L255.6 180.5L258.5 180.5L260.5 182.1L262.7 183.3M262.7 183.3L261.0 186.5L258.0 188.9L255.8 193.1M255.8 193.1L250.2 192.0L246.8 192.7L244.8 194.2L242.4 194.6L241.9 192.0L237.0 190.2L234.6 188.6L232.2 189.3L232.2 194.2L230.2 193.1L228.7 193.6M232.2 194.2L234.6 192.7L237.0 194.4L238.5 195.9L242.4 199.2M230.1 199.3L233.1 198.2L236.1 199.7L237.2 200.1L237.2 201.4M237.2 201.4L240.5 200.5L242.4 199.2M242.4 199.2L243.9 199.7L245.8 198.9L247.3 198.4L247.3 199.9L250.6 199.4M250.6 199.4L249.5 196.6L252.5 195.3L255.8 193.1M244.8 194.2L246.8 195.7L249.5 196.6M242.4 194.6L243.4 196.8L243.9 199.7M246.8 192.7L248.8 194.9L246.8 195.7M237.2 201.4L236.5 203.3L236.9 206.2L237.8 206.7L236.9 208.1L237.8 209.0L239.2 211.4L237.6 213.2M236.9 208.1L242.2 208.1L245.1 205.7L245.3 203.8L246.8 202.7L247.3 199.9M244.1 214.8L246.3 214.1L245.8 212.5L245.3 211.2L247.7 210.1L249.6 207.6L250.2 205.0L252.7 201.5L250.6 199.4M252.7 201.5L254.6 204.4L254.3 206.4L256.6 207.6L259.5 209.2L261.4 210.1L263.5 210.2L264.2 211.0L265.2 209.9L267.3 210.3L270.2 208.8L272.5 209.8M256.6 207.6L255.7 209.2L258.5 210.8L261.0 211.5L263.5 211.9L263.5 210.2M264.2 211.0L265.2 211.5L267.3 211.3L267.3 210.3M272.5 209.8L270.4 212.3L269.5 214.4L268.6 214.4L268.6 216.4L267.6 217.8M264.3 216.9L263.6 213.9L263.8 211.9L265.2 212.3L267.8 213.4L266.5 215.0L267.8 215.3L267.6 217.8M262.7 183.3L266.3 188.9L270.7 190.4L272.2 192.3L276.6 192.7L280.0 193.9L284.9 192.4L286.8 190.9L286.6 189.3L290.5 188.6L290.9 186.8L294.5 186.9L292.5 182.8L291.4 182.4M262.7 183.3L267.3 180.8L272.7 182.1L273.9 178.8L277.3 180.1L277.4 181.1L281.5 181.6L285.9 183.1L289.3 181.7L291.4 182.4M291.4 182.4L294.2 181.6L295.4 178.0L296.1 176.9L300.0 177.3L302.0 182.4L305.1 183.9L309.0 184.6L307.5 189.3L305.7 190.7L305.4 192.1L305.0 192.8M305.0 192.8L302.5 193.3L301.3 193.7L298.9 195.8M300.7 198.7L302.9 197.7M282.9 217.1L280.3 215.2L277.3 216.1L276.3 217.4L275.2 217.1L274.1 215.7L273.9 213.9L272.7 212.8L273.7 210.7L272.5 209.8M277.3 216.1L279.0 218.2L280.0 220.0L282.4 222.6L282.4 224.3L282.4 226.5L280.9 227.8L279.4 228.4M276.3 217.4L275.2 218.3L276.1 221.1L277.2 220.5L279.0 220.4L279.8 222.4L280.6 224.3L282.4 224.3M280.6 224.3L278.0 224.6L277.5 225.3L278.0 227.1M275.2 218.3L272.9 220.2L273.7 222.3L273.4 223.8L274.3 226.3L274.1 227.8L273.9 228.6M275.2 232.3L276.2 233.0L277.2 232.5M212.8 200.9L213.3 199.9L215.1 199.9L218.9 199.5L221.2 199.4M221.2 199.4L220.6 196.7L221.2 196.3L220.1 195.7L219.9 194.5L218.0 194.0M216.5 191.5L219.5 192.5L222.9 193.5L224.9 193.6M219.9 194.5L221.4 194.2L222.9 193.5M221.4 194.2L222.9 197.3L221.2 196.3M221.2 196.3L224.3 196.3L225.2 197.9M221.2 199.4L222.4 201.8L221.8 203.3L224.1 206.7L224.9 207.9M218.9 199.5L217.7 202.3L215.4 204.0L215.7 205.4L218.5 206.7L221.1 208.8L222.9 208.9L223.9 209.0L224.3 208.3M222.9 208.9L224.0 209.5L224.7 209.5M215.4 204.0L213.4 205.2L212.2 204.8L212.2 204.1L211.7 204.3M215.7 205.4L213.6 206.2L214.6 207.3L212.7 208.8L211.6 208.5M212.2 204.8L212.0 206.5L211.6 208.4M211.0 206.4L211.5 208.4M219.3 222.4L220.4 221.3L223.4 221.8L224.8 220.5L228.2 219.7L231.2 218.7L231.8 216.6L231.4 215.8L228.8 215.6L227.9 214.3M228.2 219.7L229.3 222.2M231.4 215.8L232.2 214.2L232.4 213.5M315.2 241.1L315.2 247.5"/>
</g>
<text x="20.6" y="19.2" font-size="24.5" fill="#231815" stroke="#231815" stroke-width="0.7">A</text>
<text x="413.5" y="18.8" font-size="24.5" fill="#231815" stroke="#231815" stroke-width="0.7">B</text>
<text x="22.3" y="344.6" font-size="24.5" fill="#231815" stroke="#231815" stroke-width="0.7">C</text>
<g id="edges" fill="none" stroke-linecap="round">
<path d="M80.4 195.9L85.4 197.4L90.3 198.7L95.2 200.0L100.2 201.1L105.2 202.2L110.1 203.3L115.1 204.2L120.1 205.1L125.1 206.0L130.1 206.8L135.0 207.5L140.0 208.2L145.0 208.8L150.0 209.3L155.0 209.8L160.0 210.2L165.0 210.6L170.0 210.9L175.0 211.1L180.1 211.3L185.1 211.4L190.1 211.4L195.1 211.4L200.1 211.4L205.1 211.2L210.1 211.0L215.1 210.8L220.1 210.5L225.1 210.1L230.1 209.6L235.1 209.1L240.1 208.6L245.1 207.9L250.1 207.3L255.1 206.5L260.1 205.7L265.1 204.8L270.1 203.9L275.1 202.8L280.0 201.6L279.8 200.4L274.7 201.0L269.7 201.6L264.7 202.2L259.7 202.8L254.7 203.4L249.7 203.9L244.8 204.4L239.8 204.8L234.8 205.2L229.8 205.5L224.8 205.8L219.9 206.1L214.9 206.3L209.9 206.4L205.0 206.5L200.0 206.6L195.1 206.6L190.1 206.6L185.2 206.5L180.2 206.4L175.2 206.2L170.3 206.0L165.3 205.7L160.4 205.4L155.4 205.1L150.5 204.7L145.5 204.3L140.5 203.8L135.6 203.3L130.6 202.7L125.6 202.1L120.7 201.4L115.7 200.7L110.7 199.9L105.8 199.1L100.8 198.3L95.8 197.4L90.8 196.5L85.8 195.6L80.8 194.7Z" fill="#c4725a" fill-opacity="0.6" stroke="none"/>
<path d="M279.9 201.0 Q231.3 202.0 182.7 177.3" stroke="#c4725a" stroke-width="1.20" stroke-opacity="0.75"/>
<path d="M279.9 201.0 Q234.7 200.0 189.6 191.2" stroke="#c4725a" stroke-width="0.90" stroke-opacity="0.70"/>
<path d="M279.9 201.0 Q232.0 197.0 187.3 179.0" stroke="#c4725a" stroke-width="0.60" stroke-opacity="0.70"/>
<path d="M189.6 191.2 Q135.0 205.0 80.6 195.3" stroke="#f2a860" stroke-width="1.50" stroke-opacity="0.70"/>
<path d="M182.7 177.3 Q131.0 190.0 80.6 195.3" stroke="#84c56f" stroke-width="0.60" stroke-opacity="0.80"/>
<path d="M182.7 177.3 Q131.0 198.0 80.6 195.3" stroke="#84c56f" stroke-width="0.60" stroke-opacity="0.80"/>
<path d="M186.9 171.1 Q133.0 186.0 80.6 195.3" stroke="#84c56f" stroke-width="0.50" stroke-opacity="0.80"/>
<path d="M185.3 185.4 Q133.0 199.0 80.6 195.3" stroke="#84c56f" stroke-width="0.50" stroke-opacity="0.80"/>
<path d="M173.5 175.3 Q127.0 192.0 80.6 195.3" stroke="#d283b6" stroke-width="0.50" stroke-opacity="0.80"/>
<path d="M173.5 195.2 Q127.0 201.0 80.6 195.3" stroke="#d283b6" stroke-width="0.50" stroke-opacity="0.80"/>
<path d="M173.5 175.3 Q121.7 167.6 69.3 165.9" stroke="#9366b4" stroke-width="0.50" stroke-opacity="0.80"/>
<path d="M178.9 187.1 Q130.0 196.0 80.6 195.3" stroke="#9366b4" stroke-width="0.50" stroke-opacity="0.70"/>
<path d="M187.3 179.0 Q134.0 194.0 80.6 195.3" stroke="#f2a860" stroke-width="0.50" stroke-opacity="0.70"/>
<path d="M211.3 196.3 Q146.0 200.0 80.6 195.3" stroke="#6a9fd8" stroke-width="0.45" stroke-opacity="0.80"/>
<path d="M80.6 195.3 Q190.0 197.0 282.6 221.9" stroke="#6a9fd8" stroke-width="0.45" stroke-opacity="0.80"/>
<path d="M69.3 165.9 Q78.5 180.0 80.6 195.3" stroke="#9366b4" stroke-width="0.50" stroke-opacity="0.80"/>
<path d="M189.6 191.2 Q140.9 221.6 107.4 267.9" stroke="#f2a860" stroke-width="0.50" stroke-opacity="0.70"/>
<path d="M79.7 195.8 L106.4 233.8" stroke="#6a9fd8" stroke-width="0.6" stroke-opacity="0.6"/>
<path d="M80.6 195.3 L106.7 233.6" stroke="#6a9fd8" stroke-width="0.6" stroke-opacity="0.6"/>
<path d="M81.5 194.8 L107.0 233.4" stroke="#6a9fd8" stroke-width="0.6" stroke-opacity="0.6"/>
<path d="M106.7 233.6 Q114.6 240.7 123.2 247.1" stroke="#6a9fd8" stroke-width="0.50" stroke-opacity="0.90"/>
<path d="M182.7 177.3 Q201.9 183.1 219.6 192.6" stroke="#84c56f" stroke-width="0.50" stroke-opacity="0.80"/>
<path d="M182.7 177.3 Q200.6 186.3 219.6 192.6" stroke="#84c56f" stroke-width="0.50" stroke-opacity="0.80"/>
<path d="M182.7 177.3 Q206.9 189.3 229.0 204.7" stroke="#84c56f" stroke-width="0.50" stroke-opacity="0.80"/>
<path d="M182.7 177.3 Q205.1 192.3 229.0 204.7" stroke="#84c56f" stroke-width="0.50" stroke-opacity="0.80"/>
<path d="M186.9 171.1 Q209.8 185.6 229.0 204.7" stroke="#84c56f" stroke-width="0.40" stroke-opacity="0.70"/>
<path d="M187.3 179.0 Q188.4 185.1 189.6 191.2" stroke="#f2a860" stroke-width="0.60" stroke-opacity="0.80"/>
<path d="M182.7 177.3 Q185.3 184.7 189.6 191.2" stroke="#84c56f" stroke-width="0.50" stroke-opacity="0.80"/>
<path d="M186.9 160.2 Q186.4 165.6 186.9 171.1" stroke="#3f8a55" stroke-width="0.40" stroke-opacity="0.80"/>
<path d="M182.7 177.3 Q184.8 174.2 186.9 171.1" stroke="#84c56f" stroke-width="0.50" stroke-opacity="0.80"/>
<path d="M279.9 201.0 Q285.5 217.8 287.2 235.4" stroke="#c4725a" stroke-width="0.45" stroke-opacity="0.90"/>
<path d="M279.9 201.0 Q290.9 199.9 301.8 198.9" stroke="#84c56f" stroke-width="0.40" stroke-opacity="0.80"/>
<path d="M279.9 201.0 Q296.0 201.5 312.0 200.0" stroke="#3f9090" stroke-width="0.40" stroke-opacity="0.80"/>
</g>
<g id="nodes">
<circle cx="80.6" cy="195.3" r="4.70" fill="#6a9fd8"/>
<circle cx="279.9" cy="201.0" r="9.60" fill="#c4725a"/>
<circle cx="189.6" cy="191.2" r="4.90" fill="#f2a860"/>
<circle cx="182.7" cy="177.3" r="2.90" fill="#84c56f"/>
<circle cx="187.3" cy="179.0" r="2.05" fill="#f2a860"/>
<circle cx="186.9" cy="171.1" r="2.00" fill="#84c56f"/>
<circle cx="186.9" cy="160.2" r="0.70" fill="#3f8a55"/>
<circle cx="173.5" cy="175.3" r="1.30" fill="#d283b6"/>
<circle cx="178.9" cy="187.1" r="1.00" fill="#9366b4"/>
<circle cx="185.3" cy="185.4" r="1.00" fill="#84c56f"/>
<circle cx="173.5" cy="195.2" r="0.90" fill="#d283b6"/>
<circle cx="201.6" cy="187.1" r="0.60" fill="#6e6e6e"/>
<circle cx="219.6" cy="192.6" r="1.20" fill="#84c56f"/>
<circle cx="211.3" cy="196.3" r="0.70" fill="#6a9fd8"/>
<circle cx="229.0" cy="204.7" r="1.10" fill="#84c56f"/>
<circle cx="123.2" cy="247.1" r="0.90" fill="#6a9fd8"/>
<circle cx="106.7" cy="233.6" r="0.60" fill="#6a9fd8"/>
<circle cx="107.4" cy="267.9" r="0.60" fill="#f2a860"/>
<circle cx="69.3" cy="165.9" r="0.70" fill="#9366b4"/>
<circle cx="301.8" cy="198.9" r="2.00" fill="#84c56f"/>
<circle cx="312.0" cy="200.0" r="1.80" fill="#3f9090"/>
<circle cx="282.6" cy="221.9" r="0.70" fill="#6a9fd8"/>
<circle cx="287.2" cy="235.4" r="0.70" fill="#c4725a"/>
<circle cx="309.0" cy="262.7" r="0.90" fill="#e8d640"/>
</g>
<g id="nodelabels" font-size="3.6" font-weight="700" text-anchor="middle" letter-spacing="0.75">
<text x="91.7" y="193.3" fill="#6a9fd8" fill-opacity="0.9">USA</text>
<text x="259.4" y="197.5" fill="#c4725a" fill-opacity="0.9">CHINA</text>
<text x="198.7" y="199.7" fill="#f2a860" fill-opacity="0.9">ITALY</text>
<text x="161.2" y="174.0" fill="#84c56f" fill-opacity="0.9">NETHERLANDS</text>
<text x="202.4" y="177.0" fill="#f2a860" fill-opacity="0.9">GERMANY</text>
<text x="200.4" y="168.1" fill="#84c56f" fill-opacity="0.9">DENMARK</text>
<text x="190.6" y="157.7" fill="#2f6f45" fill-opacity="0.9">NORWAY</text>
<text x="149.4" y="172.8" fill="#d283b6" fill-opacity="0.9">UNITED KINGDOM</text>
<text x="167.6" y="191.3" fill="#9366b4" fill-opacity="0.9" font-size="4.3">FRANCE</text>
<text x="164.6" y="190.5" fill="#84c56f" fill-opacity="0.9">SWITZERLAND</text>
<text x="164.0" y="199.6" fill="#d283b6" fill-opacity="0.9">SPAIN</text>
<text x="214.7" y="185.4" fill="#4a4a4a" fill-opacity="0.9">ROMANIA</text>
<text x="232.3" y="190.3" fill="#84c56f" fill-opacity="0.9">GEORGIA</text>
<text x="221.7" y="200.9" fill="#6a9fd8" fill-opacity="0.9">TURKEY</text>
<text x="220.9" y="209.8" fill="#84c56f" fill-opacity="0.9">IRAN</text>
<text x="131.0" y="244.7" fill="#6a9fd8" fill-opacity="0.9">BRAZIL</text>
<text x="110.0" y="231.6" fill="#6a9fd8" fill-opacity="0.9">COLOMBIA</text>
<text x="109.5" y="265.7" fill="#f2a860" fill-opacity="0.9">CHILE</text>
<text x="81.2" y="164.5" fill="#9366b4" fill-opacity="0.9">CANADA</text>
<text x="281.3" y="197.0" fill="#84c56f" fill-opacity="0.9">SOUTH KOREA</text>
<text x="302.0" y="198.4" fill="#3f9090" fill-opacity="0.9">JAPAN</text>
<text x="270.4" y="219.9" fill="#6a9fd8" fill-opacity="0.9">VIETNAM</text>
<text x="273.4" y="233.4" fill="#c4725a" fill-opacity="0.9">MALAYSIA</text>
<text x="293.9" y="260.6" fill="#e8d640" fill-opacity="0.9">AUSTRALIA</text>
</g>
<g id="zoomctl"><rect x="6.5" y="49.5" width="16.4" height="33" fill="#fff" stroke="#e4e4e4" stroke-width="0.7"/><path d="M8.3 66h12.8" stroke="#ececec" stroke-width="0.7"/>
<path d="M11.9 57.6h5.6M14.7 54.8v5.6M11.9 74.1h5.6" stroke="#8a8a8a" stroke-width="0.9" fill="none"/></g>
<g id="legend">
<text x="358.7" y="50.3" font-size="7.6" font-weight="700" fill="#333">Publication</text>
<circle cx="368" cy="70.8" r="10" fill="none" stroke="#27508a" stroke-width="0.8"/>
<circle cx="368" cy="75" r="5.8" fill="none" stroke="#27508a" stroke-width="0.8"/>
<path d="M368 60.8H380M368 69.2H380" stroke="#27508a" stroke-width="0.6" stroke-dasharray="0.8 0.8" fill="none"/>
<text x="384" y="64.1" font-size="7.8" fill="#333" letter-spacing="0.3">120</text>
<text x="384" y="73.3" font-size="7.8" fill="#333" letter-spacing="0.3">40</text>
<text x="358.7" y="98.5" font-size="7.6" font-weight="700" fill="#333">cluster</text>
<circle cx="364" cy="112.5" r="3.9" fill="#84c56f"/>
<text x="372.6" y="115.3" font-size="7.8" fill="#333" letter-spacing="0.3">1</text>
<circle cx="364" cy="123.9" r="3.9" fill="#6a9fd8"/>
<text x="372.6" y="126.7" font-size="7.8" fill="#333" letter-spacing="0.3">2</text>
<circle cx="364" cy="135.3" r="3.9" fill="#f2a860"/>
<text x="372.6" y="138.1" font-size="7.8" fill="#333" letter-spacing="0.3">3</text>
<circle cx="364" cy="146.7" r="3.9" fill="#9366b4"/>
<text x="372.6" y="149.5" font-size="7.8" fill="#333" letter-spacing="0.3">4</text>
<circle cx="364" cy="158.1" r="3.9" fill="#c4725a"/>
<text x="372.6" y="160.9" font-size="7.8" fill="#333" letter-spacing="0.3">5</text>
<circle cx="364" cy="169.6" r="3.9" fill="#d283b6"/>
<text x="372.6" y="172.4" font-size="7.8" fill="#333" letter-spacing="0.3">6</text>
<circle cx="364" cy="181.0" r="3.9" fill="#e8d640"/>
<text x="372.6" y="183.8" font-size="7.8" fill="#333" letter-spacing="0.3">7</text>
<circle cx="364" cy="192.4" r="3.9" fill="#3f9090"/>
<text x="372.6" y="195.2" font-size="7.8" fill="#333" letter-spacing="0.3">8</text>
<circle cx="364" cy="203.8" r="3.9" fill="#3f8a55"/>
<text x="372.6" y="206.6" font-size="7.8" fill="#333" letter-spacing="0.3">9</text>
<circle cx="364" cy="215.2" r="3.9" fill="#6e6e6e"/>
<text x="372.6" y="218.0" font-size="7.8" fill="#333" letter-spacing="0.3">10</text>
<circle cx="364" cy="226.6" r="3.9" fill="#84c56f"/>
<text x="372.6" y="229.4" font-size="7.8" fill="#333" letter-spacing="0.3">11</text>
<circle cx="364" cy="238.0" r="3.9" fill="#6a9fd8"/>
<text x="372.6" y="240.8" font-size="7.8" fill="#333" letter-spacing="0.3">12</text>
</g>
<g id="chart">
<path d="M430 246.7H789M430 207.7H789M430 168.7H789M430 129.7H789M430 90.7H789M445.6 59V256M539.0 59V256M632.4 59V256M725.8 59V256" stroke="#ececec" stroke-width="0.5" fill="none"/>
<path d="M429.6 59V256.3H790" stroke="#4d4d4d" stroke-width="0.7" fill="none"/>
<path d="M428 246.7h1.6M428 207.7h1.6M428 168.7h1.6M428 129.7h1.6M428 90.7h1.6M445.6 256.3v1.6M539.0 256.3v1.6M632.4 256.3v1.6M725.8 256.3v1.6" stroke="#4d4d4d" stroke-width="0.5" fill="none"/>
<g font-size="4.3" fill="#3a3a3a" text-anchor="end">
<text x="427.3" y="248.2">0</text>
<text x="427.3" y="209.2">100</text>
<text x="427.3" y="170.2">200</text>
<text x="427.3" y="131.2">300</text>
<text x="427.3" y="92.2">400</text>
</g>
<g font-size="4.9" fill="#3a3a3a" text-anchor="end">
<text transform="translate(447.3 258.9) rotate(-90)">2016</text>
<text transform="translate(540.7 258.9) rotate(-90)">2018</text>
<text transform="translate(634.1 258.9) rotate(-90)">2020</text>
<text transform="translate(727.5 258.9) rotate(-90)">2022</text>
</g>
<text transform="translate(418.5 157) rotate(-90)" font-size="6.4" fill="#333" text-anchor="middle">Articles</text>
<text x="608.3" y="277.3" font-size="6.3" fill="#333" text-anchor="middle">Year</text>
<path d="M445.6 245.5L492.3 243.6L539.0 238.9L585.7 218.6L632.4 201.5L679.1 166.0L725.8 141.4L772.5 68.1" stroke="#f8766d" stroke-width="0.6" fill="none" stroke-linejoin="round"/>
<path d="M445.6 246.3L492.3 245.5L539.0 244.0L585.7 237.3L632.4 236.2L679.1 228.0L725.8 203.8L772.5 188.6" stroke="#a3a500" stroke-width="0.6" fill="none" stroke-linejoin="round"/>
<path d="M445.6 246.7L492.3 246.3L539.0 246.3L585.7 244.4L632.4 244.8L679.1 240.1L725.8 240.1L772.5 238.1" stroke="#00bf7d" stroke-width="0.6" fill="none" stroke-linejoin="round"/>
<path d="M445.6 246.7L492.3 245.9L539.0 245.1L585.7 244.4L632.4 241.6L679.1 239.3L725.8 234.2L772.5 224.5" stroke="#00b0f6" stroke-width="0.6" fill="none" stroke-linejoin="round"/>
<path d="M445.6 245.9L492.3 245.1L539.0 244.8L585.7 243.6L632.4 232.7L679.1 229.5L725.8 223.3L772.5 215.5" stroke="#e76bf3" stroke-width="0.6" fill="none" stroke-linejoin="round"/>
<text x="430.3" y="293.3" font-size="5.6" fill="#333">Country</text>
<path d="M453.7 291.3h8.6" stroke="#f8766d" stroke-width="0.6"/>
<text x="464.6" y="292.4" font-size="3.3" font-weight="700" fill="#333">CHINA</text>
<path d="M478.3 291.3h8.6" stroke="#a3a500" stroke-width="0.6"/>
<text x="489.1" y="292.4" font-size="3.3" font-weight="700" fill="#333">ITALY</text>
<path d="M502.2 291.3h8.6" stroke="#00bf7d" stroke-width="0.6"/>
<text x="513.0" y="292.4" font-size="3.3" font-weight="700" fill="#333">KOREA</text>
<path d="M527.0 291.3h8.6" stroke="#00b0f6" stroke-width="0.6"/>
<text x="537.5" y="292.4" font-size="3.3" font-weight="700" fill="#333">NETHERLANDS</text>
<path d="M566.3 291.3h8.6" stroke="#e76bf3" stroke-width="0.6"/>
<text x="576.5" y="292.4" font-size="3.3" font-weight="700" fill="#333">USA</text>
</g>
<g id="chord">
<path d="M212.5 377.0A122.0 122.0 0 0 1 271.6 605.7L265.5 594.7A109.4 109.4 0 0 0 212.5 389.6Z" fill="#1f77b4"/>
<path d="M266.2 608.6A122.0 122.0 0 0 1 231.2 619.6L229.2 607.1A109.4 109.4 0 0 0 260.6 597.2Z" fill="#aec7e8"/>
<path d="M225.5 620.3A122.0 122.0 0 0 1 221.0 620.7L220.1 608.1A109.4 109.4 0 0 0 224.1 607.8Z" fill="#ff7f0e"/>
<path d="M215.9 621.0A122.0 122.0 0 0 1 125.0 584.1L134.1 575.3A109.4 109.4 0 0 0 215.6 608.4Z" fill="#ffbb78"/>
<path d="M120.7 579.4A122.0 122.0 0 0 1 114.8 572.1L124.9 564.5A109.4 109.4 0 0 0 130.2 571.1Z" fill="#2ca02c"/>
<path d="M111.0 566.7A122.0 122.0 0 0 1 90.7 506.2L103.3 505.5A109.4 109.4 0 0 0 121.5 559.7Z" fill="#98df8a"/>
<path d="M90.5 500.9A122.0 122.0 0 0 1 90.5 499.2L103.1 499.2A109.4 109.4 0 0 0 103.1 500.7Z" fill="#d62728"/>
<path d="M90.6 493.5A122.0 122.0 0 0 1 91.1 486.5L103.7 487.8A109.4 109.4 0 0 0 103.2 494.0Z" fill="#ff9896"/>
<path d="M91.9 480.5A122.0 122.0 0 0 1 95.6 464.1L107.7 467.7A109.4 109.4 0 0 0 104.4 482.5Z" fill="#9467bd"/>
<path d="M97.8 457.5L109.1 461.6" stroke="#c5b0d5" stroke-width="0.7" fill="none"/>
<path d="M99.9 452.1A122.0 122.0 0 0 1 107.1 437.6L117.9 444.0A109.4 109.4 0 0 0 111.5 457.0Z" fill="#8c564b"/>
<path d="M110.9 431.5A122.0 122.0 0 0 1 113.3 428.0L123.5 435.3A109.4 109.4 0 0 0 121.4 438.5Z" fill="#c49c94"/>
<path d="M117.8 422.1L127.1 429.6" stroke="#e377c2" stroke-width="0.7" fill="none"/>
<path d="M122.6 416.6A122.0 122.0 0 0 1 124.0 415.0L133.1 423.7A109.4 109.4 0 0 0 131.8 425.1Z" fill="#f7b6d2"/>
<path d="M128.2 410.8A122.0 122.0 0 0 1 129.8 409.3L138.3 418.6A109.4 109.4 0 0 0 136.9 419.9Z" fill="#7f7f7f"/>
<path d="M134.4 405.3L142.1 414.5" stroke="#c7c7c7" stroke-width="0.7" fill="none"/>
<path d="M139.8 401.1A122.0 122.0 0 0 1 144.8 397.5L151.8 408.0A109.4 109.4 0 0 0 147.3 411.2Z" fill="#bcbd22"/>
<path d="M149.8 394.3A122.0 122.0 0 0 1 157.1 390.3L162.8 401.5A109.4 109.4 0 0 0 156.3 405.1Z" fill="#dbdb8d"/>
<path d="M161.7 388.1A122.0 122.0 0 0 1 171.6 384.1L175.8 395.9A109.4 109.4 0 0 0 167.0 399.5Z" fill="#17becf"/>
<path d="M177.0 382.3L180.5 393.8" stroke="#9edae5" stroke-width="0.7" fill="none"/>
<path d="M184.2 380.3A122.0 122.0 0 0 1 190.1 379.1L192.4 391.5A109.4 109.4 0 0 0 187.1 392.6Z" fill="#1f77b4"/>
<path d="M195.7 378.2L197.4 390.0" stroke="#aec7e8" stroke-width="0.7" fill="none"/>
<path d="M201.9 377.5A122.0 122.0 0 0 1 207.2 377.1L207.7 389.7A109.4 109.4 0 0 0 203.0 390.0Z" fill="#ff7f0e"/>
<path d="M212.5 377.0A122.0 122.0 0 0 1 271.6 605.7L265.8 595.2A110.0 110.0 0 0 0 277.6 587.7Q212.5 499.0 212.5 389.0A110.0 110.0 0 0 0 212.5 389.0Z" fill="#1f77b4"/>
<path d="M111.0 566.7A122.0 122.0 0 0 1 90.7 506.2L102.7 505.5A110.0 110.0 0 0 0 103.7 515.1Q212.5 499.0 119.6 557.9A110.0 110.0 0 0 0 121.0 560.0Z" fill="#98df8a"/>
<path d="M215.9 621.0A122.0 122.0 0 0 1 125.0 584.1L133.6 575.7Q210.5 503.9 215.6 609.0Z" fill="#ffbb78"/>
<path d="M91.9 480.5A122.0 122.0 0 0 1 95.6 464.1L107.1 467.6A110.0 110.0 0 0 0 106.5 469.6Q212.5 499.0 103.8 482.4A110.0 110.0 0 0 0 103.8 482.4Z" fill="#9467bd"/>
<path d="M266.2 608.6A122.0 122.0 0 0 1 231.2 619.6L229.3 607.7Q212.5 499.0 260.9 597.8Z" fill="#aec7e8"/>
<path d="M120.7 579.4A122.0 122.0 0 0 1 114.8 572.1L124.4 564.9Q212.5 499.0 129.7 571.5Z" fill="#2ca02c"/>
<path d="M90.6 493.5A122.0 122.0 0 0 1 91.1 486.5L103.1 487.7Q212.5 499.0 102.6 494.0Z" fill="#ff9896"/>
<path d="M99.9 452.1A122.0 122.0 0 0 1 107.1 437.6L117.4 443.7Q212.5 499.0 110.9 456.7Z" fill="#8c564b"/>
<path d="M110.9 431.5A122.0 122.0 0 0 1 113.3 428.0L123.1 435.0Q212.5 499.0 120.9 438.1Z" fill="#c49c94"/>
<path d="M128.2 410.8A122.0 122.0 0 0 1 129.8 409.3L137.9 418.2Q212.5 499.0 136.5 419.5Z" fill="#7f7f7f"/>
<path d="M139.8 401.1A122.0 122.0 0 0 1 144.8 397.5L151.5 407.5Q212.5 499.0 146.9 410.7Z" fill="#bcbd22"/>
<path d="M149.8 394.3A122.0 122.0 0 0 1 157.1 390.3L162.6 401.0Q212.5 499.0 156.0 404.6Z" fill="#dbdb8d"/>
<path d="M161.7 388.1A122.0 122.0 0 0 1 171.6 384.1L175.6 395.4Q212.5 499.0 166.7 399.0Z" fill="#17becf"/>
<path d="M184.2 380.3A122.0 122.0 0 0 1 190.1 379.1L192.3 390.9Q212.5 499.0 187.0 392.0Z" fill="#1f77b4"/>
<path d="M201.9 377.5A122.0 122.0 0 0 1 207.2 377.1L207.7 389.1Q212.5 499.0 202.9 389.4Z" fill="#ff7f0e"/>
<path d="M122.6 416.6A122.0 122.0 0 0 1 124.0 415.0L132.7 423.3Q212.5 499.0 131.4 424.7Z" fill="#f7b6d2"/>
<path d="M224.2 608.4A110.0 110.0 0 0 1 221.7 608.6Q212.5 499.0 235.0 606.7A110.0 110.0 0 0 1 232.0 607.3Q212.5 499.0 224.2 608.4Z" fill="#ff7f0e"/>
<path d="M225.5 620.3A122.0 122.0 0 0 1 221.0 620.7L220.2 608.7Q212.5 499.0 224.2 608.4Z" fill="#ff7f0e"/>
<path d="M102.7 505.5A110.0 110.0 0 0 0 103.9 516.4Q212.5 499.0 268.5 593.7A110.0 110.0 0 0 0 277.6 587.7Q212.5 499.0 102.7 505.5Z" fill="#98df8a"/>
<path d="M121.0 560.0A110.0 110.0 0 0 1 119.2 557.3Q212.5 499.0 135.3 577.3A110.0 110.0 0 0 0 136.9 578.9Q212.5 499.0 121.0 560.0Z" fill="#98df8a"/>
<path d="M106.6 469.4A110.0 110.0 0 0 1 107.1 467.6Q212.5 499.0 266.7 594.7A110.0 110.0 0 0 0 268.2 593.9Q212.5 499.0 106.6 469.4Z" fill="#9467bd"/>
<path d="M174.0 396.0Q196.9 502.9 226.9 608.1" stroke="#17becf" stroke-width="0.45" stroke-opacity="1.00" fill="none"/>
<path d="M175.2 395.5Q196.5 503.2 230.7 607.5" stroke="#17becf" stroke-width="0.45" stroke-opacity="1.00" fill="none"/>
<path d="M180.5 393.8Q228.4 493.1 257.2 599.5" stroke="#9edae5" stroke-width="0.50" stroke-opacity="1.00" fill="none"/>
<path d="M167.4 398.7Q211.8 497.9 142.7 414.0" stroke="#17becf" stroke-width="0.45" stroke-opacity="1.00" fill="none"/>
<path d="M197.4 390.0Q203.4 495.4 127.0 568.2" stroke="#aec7e8" stroke-width="0.40" stroke-opacity="0.90" fill="none"/>
<path d="M205.8 389.2Q207.9 494.9 102.8 506.7" stroke="#ffa24d" stroke-width="0.50" stroke-opacity="1.00" fill="none"/>
<path d="M206.7 389.2Q212.1 497.5 161.7 401.4" stroke="#ffa24d" stroke-width="0.50" stroke-opacity="1.00" fill="none"/>
<path d="M131.4 424.7A110.0 110.0 0 0 1 132.4 423.6Q212.5 499.0 102.7 505.9A110.0 110.0 0 0 0 102.9 507.8Q212.5 499.0 131.4 424.7Z" fill="#f7b6d2"/>
<path d="M127.1 429.6Q210.2 498.3 102.9 508.6" stroke="#e377c2" stroke-width="0.50" stroke-opacity="1.00" fill="none"/>
<path d="M132.4 423.6Q211.5 498.2 121.1 437.8" stroke="#f7b6d2" stroke-width="0.50" stroke-opacity="1.00" fill="none"/>
<path d="M109.1 461.6Q209.7 499.2 117.2 554.0" stroke="#c5b0d5" stroke-width="0.45" stroke-opacity="1.00" fill="none"/>
<path d="M109.1 461.6Q205.3 504.6 224.0 608.4" stroke="#c5b0d5" stroke-width="0.40" stroke-opacity="1.00" fill="none"/>
<path d="M142.1 414.5Q204.1 499.7 157.5 594.3" stroke="#c7c7c7" stroke-width="0.35" stroke-opacity="0.70" fill="none"/>
<path d="M106.8 468.7Q209.2 499.8 132.7 574.7" stroke="#9467bd" stroke-width="0.45" stroke-opacity="1.00" fill="none"/>
<path d="M102.5 500.0Q210.7 499.5 119.7 558.1" stroke="#d62728" stroke-width="0.40" stroke-opacity="0.80" fill="none"/>
<path d="M117.2 554.0Q210.7 502.4 222.1 608.6" stroke="#98df8a" stroke-width="0.45" stroke-opacity="1.00" fill="none"/>
<path d="M116.3 552.3Q210.6 503.0 233.5 607.0" stroke="#98df8a" stroke-width="0.45" stroke-opacity="1.00" fill="none"/>
<path d="M115.4 550.6Q210.6 502.5 222.9 608.5" stroke="#98df8a" stroke-width="0.40" stroke-opacity="1.00" fill="none"/>
<path d="M193.4 607.3Q208.9 502.2 102.7 506.3" stroke="#ffbb78" stroke-width="0.40" stroke-opacity="1.00" fill="none"/>
<path d="M191.5 607.0Q211.1 501.1 120.2 558.9" stroke="#ffbb78" stroke-width="0.40" stroke-opacity="1.00" fill="none"/>
<path d="M189.6 606.6Q211.1 501.1 119.6 557.9" stroke="#ffbb78" stroke-width="0.40" stroke-opacity="1.00" fill="none"/>
</g>
<g id="chordlabels" font-size="5.8" fill="#000">
<text transform="translate(212.5 373.4) rotate(-90.0)" dy="2.05">CHINA</text>
<text transform="translate(267.8 611.8) rotate(-296.1)" dy="2.05">NETHERLANDS</text>
<text transform="translate(225.8 623.9) rotate(-276.1)" dy="2.05">DENMARK</text>
<text transform="translate(216.0 624.6) rotate(-271.6)" dy="2.05">ITALY</text>
<text transform="translate(118.0 581.7) rotate(-41.2)" text-anchor="end" dy="2.05">FRANCE</text>
<text transform="translate(108.0 568.7) rotate(-33.7)" text-anchor="end" dy="2.05">USA</text>
<text transform="translate(86.9 501.0) rotate(-0.9)" text-anchor="end" dy="2.05">CANADA</text>
<text transform="translate(87.0 493.3) rotate(2.6)" text-anchor="end" dy="2.05">AUSTRALIA</text>
<text transform="translate(88.3 480.0) rotate(8.7)" text-anchor="end" dy="2.05">GERMANY</text>
<text transform="translate(94.4 456.2) rotate(19.9)" text-anchor="end" dy="2.05">GEORGIA</text>
<text transform="translate(96.5 450.7) rotate(22.6)" text-anchor="end" dy="2.05">SOUTH KOREA</text>
<text transform="translate(107.9 429.5) rotate(33.6)" text-anchor="end" dy="2.05">TURKEY</text>
<text transform="translate(115.0 419.8) rotate(39.1)" text-anchor="end" dy="2.05">BRAZIL</text>
<text transform="translate(119.9 414.1) rotate(42.5)" text-anchor="end" dy="2.05">VIETNAM</text>
<text transform="translate(125.7 408.2) rotate(46.3)" text-anchor="end" dy="2.05">JAPAN</text>
<text transform="translate(132.1 402.5) rotate(50.2)" text-anchor="end" dy="2.05">SWITZERLAND</text>
<text transform="translate(137.6 398.2) rotate(53.4)" text-anchor="end" dy="2.05">NORWAY</text>
<text transform="translate(148.0 391.2) rotate(59.1)" text-anchor="end" dy="2.05">UK</text>
<text transform="translate(160.2 384.8) rotate(65.4)" text-anchor="end" dy="2.05">IRAN</text>
<text transform="translate(176.0 378.8) rotate(73.1)" text-anchor="end" dy="2.05">MALAYSIA</text>
<text transform="translate(183.4 376.8) rotate(76.6)" text-anchor="end" dy="2.05">ROMANIA</text>
<text transform="translate(195.2 374.6) rotate(82.1)" text-anchor="end" dy="2.05">CHILE</text>
<text transform="translate(201.6 373.9) rotate(85.0)" text-anchor="end" dy="2.05">SPAIN</text>
<path d="M212.5 376.4L212.5 374.8M266.4 609.1L267.1 610.5M225.5 620.9L225.7 622.5M215.9 621.6L216.0 623.2M120.3 579.8L119.1 580.8M110.5 567.0L109.2 567.9M89.9 500.9L88.3 501.0M90.0 493.4L88.4 493.4M91.3 480.5L89.7 480.2M97.2 457.3L95.7 456.7M99.3 451.9L97.8 451.3M110.4 431.2L109.1 430.3M117.4 421.7L116.1 420.7M122.1 416.2L120.9 415.1M127.8 410.4L126.7 409.2M134.0 404.8L133.0 403.6M139.4 400.6L138.4 399.3M149.5 393.8L148.7 392.4M161.5 387.5L160.8 386.1M176.9 381.7L176.4 380.2M184.1 379.7L183.7 378.2M195.6 377.6L195.4 376.0M201.8 376.9L201.7 375.3" stroke="#000" stroke-width="0.5" fill="none"/>
</g>
</svg></body></html>
